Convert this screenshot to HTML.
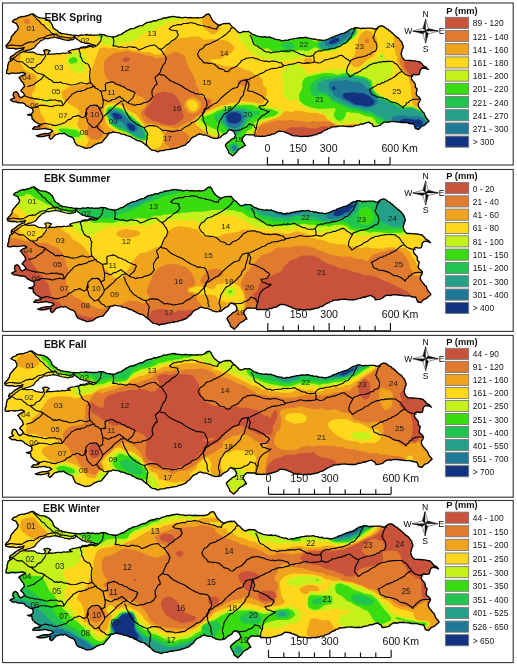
<!DOCTYPE html><html><head><meta charset="utf-8"><title>EBK seasonal precipitation</title><style>html,body{margin:0;padding:0;background:#fff}svg{display:block}</style></head><body><svg width="517" height="666" viewBox="0 0 517 666" font-family="'Liberation Sans', Arial, sans-serif">
<defs>
<clipPath id="land"><path d="M12.3,21.5 L14.4,19.5 L17.0,18.9 L18.1,17.6 L19.9,17.1 L21.9,16.5 L24.0,16.7 L25.7,16.0 L28.6,15.3 L30.8,14.1 L33.2,13.9 L34.9,15.2 L36.7,16.5 L38.6,17.5 L40.3,17.9 L42.6,18.1 L44.5,18.3 L46.2,19.3 L48.6,20.4 L49.6,21.8 L51.0,22.8 L52.3,25.3 L52.9,27.3 L54.3,28.9 L55.7,29.8 L57.4,30.7 L58.4,32.2 L60.0,32.6 L61.6,33.3 L64.2,33.8 L66.3,34.1 L68.0,34.5 L69.8,34.6 L71.9,35.1 L74.5,35.3 L76.6,35.4 L79.4,35.6 L81.5,34.9 L83.1,35.1 L84.7,34.9 L86.7,34.5 L88.6,35.1 L90.6,34.8 L92.8,35.3 L94.5,35.1 L96.5,35.2 L98.4,34.9 L99.7,34.4 L101.5,34.5 L103.9,34.6 L105.2,35.3 L107.2,36.1 L109.4,36.3 L110.9,36.7 L113.1,37.2 L115.5,36.6 L117.1,35.9 L119.1,34.8 L120.8,34.6 L122.2,33.9 L123.3,32.8 L124.5,32.3 L125.9,31.1 L127.5,30.5 L129.0,29.7 L130.2,29.0 L132.2,28.6 L134.1,28.3 L136.5,27.1 L138.1,26.5 L140.2,25.6 L142.5,25.5 L144.1,24.3 L145.8,23.1 L147.9,22.4 L149.8,21.9 L150.8,22.1 L152.7,21.1 L154.3,20.6 L155.8,21.0 L157.6,20.2 L158.7,19.5 L160.2,19.3 L162.0,18.8 L163.4,17.9 L165.7,18.0 L167.6,17.5 L169.5,17.0 L171.0,16.8 L173.1,16.4 L174.7,16.6 L176.8,17.2 L179.3,17.2 L181.2,17.8 L183.1,17.6 L184.4,17.4 L186.2,17.4 L188.3,17.9 L190.3,17.5 L191.9,17.8 L193.4,17.8 L195.8,17.9 L197.4,17.6 L198.6,17.8 L200.4,17.7 L202.6,17.3 L204.1,16.4 L206.3,14.5 L208.7,14.0 L210.3,15.8 L210.7,17.0 L212.3,19.8 L213.1,21.0 L214.2,21.9 L216.2,23.6 L217.8,24.6 L219.6,25.4 L221.5,24.3 L222.7,23.9 L224.3,23.6 L225.9,23.3 L227.4,23.6 L229.2,23.2 L230.8,25.1 L232.1,26.7 L233.5,27.7 L234.8,28.6 L236.1,30.1 L237.7,31.8 L239.8,32.8 L242.1,32.1 L243.7,31.3 L245.5,31.6 L246.8,31.6 L248.5,31.5 L250.8,33.0 L252.5,34.4 L254.4,34.8 L255.9,35.5 L257.4,36.2 L259.3,36.3 L261.2,36.8 L263.4,37.0 L265.5,36.7 L267.1,37.3 L269.3,36.8 L270.4,37.5 L272.1,37.9 L273.8,38.7 L276.0,39.3 L277.5,39.7 L279.8,39.8 L281.9,41.0 L283.3,40.7 L285.4,40.2 L287.8,40.3 L289.1,39.6 L291.3,39.2 L293.0,38.9 L295.3,38.3 L297.1,38.3 L298.6,37.9 L301.0,37.7 L302.5,37.8 L305.0,37.5 L306.4,37.4 L308.3,38.3 L310.4,38.3 L312.5,39.2 L314.7,38.9 L316.1,39.7 L318.4,40.0 L320.0,39.9 L322.3,40.5 L323.8,40.4 L326.2,39.8 L327.7,39.3 L329.6,38.5 L331.8,37.3 L333.8,37.0 L335.6,35.8 L337.7,35.2 L339.3,34.5 L341.2,33.9 L343.3,33.3 L345.6,32.6 L347.2,31.5 L348.9,30.3 L350.6,29.2 L353.1,28.7 L354.9,27.8 L357.3,27.7 L359.1,28.1 L360.7,28.7 L362.5,28.2 L364.6,28.4 L366.2,28.1 L368.4,28.1 L370.1,28.1 L371.8,28.1 L373.7,29.0 L375.7,29.0 L377.0,28.1 L379.1,26.5 L380.6,26.0 L382.5,25.9 L384.4,27.1 L386.4,28.8 L388.3,29.4 L389.0,30.7 L390.4,31.2 L391.4,32.4 L393.0,33.6 L394.1,34.8 L395.1,35.7 L396.4,36.8 L397.6,37.6 L399.1,38.8 L400.2,40.3 L401.3,41.7 L402.3,43.2 L402.3,44.4 L403.1,45.8 L403.2,47.8 L402.0,49.6 L402.0,51.1 L401.3,52.8 L401.2,54.2 L401.8,56.1 L402.3,57.6 L403.6,59.1 L405.1,60.4 L407.4,60.4 L409.7,60.5 L412.0,60.7 L414.7,60.9 L417.1,61.3 L420.0,61.9 L422.5,64.4 L423.6,66.0 L425.1,66.6 L426.5,67.6 L428.3,69.6 L426.0,68.5 L423.6,68.0 L421.8,68.4 L420.4,69.8 L419.8,72.1 L419.3,74.4 L416.7,74.9 L415.6,74.8 L413.9,74.3 L412.0,75.3 L411.4,78.1 L411.8,79.4 L412.7,80.9 L413.6,81.9 L414.9,83.3 L415.5,85.6 L415.2,87.0 L417.2,88.9 L416.8,90.3 L416.4,92.7 L416.2,94.4 L417.4,96.0 L419.3,97.3 L420.5,99.2 L419.9,101.0 L418.8,102.7 L418.3,103.6 L418.4,105.9 L419.3,107.7 L420.3,109.1 L421.8,110.8 L422.8,112.0 L424.1,113.1 L424.8,115.2 L425.4,116.4 L426.3,118.1 L428.1,119.9 L428.9,121.3 L426.8,123.1 L425.1,124.6 L423.6,125.7 L422.0,126.1 L420.9,127.0 L419.5,128.6 L418.6,129.4 L415.5,128.5 L414.8,126.3 L413.7,124.0 L411.7,123.8 L409.8,123.5 L407.5,122.7 L406.1,122.6 L403.8,122.6 L401.8,122.7 L400.4,122.2 L398.2,122.0 L396.1,121.8 L393.9,121.4 L392.0,121.7 L390.3,121.4 L388.7,122.3 L386.4,121.9 L384.3,122.1 L382.9,122.9 L381.4,123.9 L380.2,125.2 L378.9,125.6 L377.0,126.1 L375.3,126.3 L373.5,126.6 L372.3,124.0 L370.5,123.4 L369.3,122.2 L366.9,122.6 L365.1,123.2 L363.5,124.0 L361.6,123.8 L359.0,124.9 L357.7,125.2 L355.6,125.3 L353.5,126.3 L351.8,126.5 L350.0,126.3 L347.4,126.5 L345.5,126.4 L343.5,125.9 L341.4,126.1 L339.3,126.1 L337.1,126.5 L335.3,126.9 L333.6,126.8 L331.3,127.0 L330.3,128.1 L328.4,128.3 L327.3,129.4 L325.7,129.9 L324.4,130.5 L322.7,131.5 L321.8,132.4 L320.3,133.0 L317.9,133.6 L316.5,134.7 L314.1,134.9 L312.2,135.7 L310.2,135.7 L308.5,136.5 L306.2,136.1 L304.6,136.4 L303.1,136.3 L301.5,136.7 L299.6,136.3 L298.2,136.1 L296.2,135.8 L294.0,135.9 L292.0,135.4 L290.1,134.2 L287.8,133.3 L286.1,132.6 L283.7,131.6 L281.8,131.4 L279.0,131.1 L276.9,132.1 L275.5,133.3 L273.6,134.0 L271.9,134.2 L269.6,135.3 L268.2,135.1 L266.3,135.8 L264.3,136.3 L262.3,136.1 L260.6,136.4 L259.3,136.3 L257.4,136.1 L254.9,136.2 L254.0,134.9 L251.5,134.8 L249.7,134.9 L247.3,134.7 L245.6,134.6 L244.0,136.4 L243.0,137.0 L241.8,139.9 L243.7,142.9 L245.3,145.7 L243.5,146.1 L242.5,147.3 L240.3,148.5 L238.7,149.3 L237.0,151.1 L236.2,152.5 L234.7,153.8 L232.7,155.9 L231.9,155.3 L230.1,153.8 L228.8,153.0 L228.3,150.7 L227.3,149.1 L226.4,147.4 L225.3,145.3 L226.5,143.6 L228.5,141.9 L229.8,141.0 L231.2,139.5 L232.4,138.9 L234.0,138.3 L235.6,135.4 L233.9,131.8 L231.5,130.3 L229.7,129.5 L228.1,130.7 L227.2,132.2 L225.8,133.5 L224.3,134.1 L222.2,135.4 L220.8,136.7 L219.8,137.7 L216.5,138.3 L214.4,138.5 L212.7,137.8 L211.0,137.7 L209.5,136.5 L208.2,136.2 L205.8,135.0 L203.6,135.1 L202.1,134.7 L199.7,133.8 L197.1,134.8 L196.0,135.9 L194.1,136.6 L192.3,137.6 L190.8,139.1 L190.3,139.9 L189.1,141.6 L187.6,142.6 L186.3,143.6 L185.1,145.1 L183.3,145.7 L180.6,146.7 L179.4,147.1 L177.4,147.6 L176.0,148.4 L173.9,148.4 L172.5,149.0 L171.1,148.9 L168.4,149.6 L166.3,149.6 L164.1,150.5 L161.9,150.7 L159.7,150.9 L157.9,151.8 L155.7,150.8 L154.2,150.4 L152.0,150.1 L150.7,149.2 L149.2,148.0 L147.6,146.1 L145.7,145.0 L144.9,144.2 L143.2,143.0 L142.1,141.8 L140.0,141.0 L138.3,140.8 L136.1,139.8 L135.2,139.4 L133.3,138.1 L132.4,138.0 L130.6,136.6 L129.0,136.2 L127.0,135.7 L125.0,134.7 L123.1,134.1 L120.9,133.9 L119.3,132.8 L116.9,132.6 L115.1,132.3 L112.9,131.9 L111.4,132.9 L109.0,133.0 L108.5,133.9 L107.6,135.3 L106.5,136.9 L105.3,138.2 L103.9,139.9 L102.7,141.4 L101.6,142.7 L99.6,143.1 L98.3,143.2 L96.9,143.9 L94.9,144.7 L93.2,145.9 L91.2,147.3 L89.5,147.8 L88.2,147.9 L86.6,148.3 L84.8,148.2 L82.8,147.1 L81.0,146.7 L79.7,145.8 L78.1,145.6 L76.4,144.7 L75.0,142.7 L74.3,140.5 L73.3,138.3 L71.8,137.2 L69.3,136.3 L67.9,135.6 L66.1,134.5 L64.0,133.1 L61.9,133.8 L59.8,133.4 L57.9,134.2 L55.3,134.8 L53.1,137.1 L52.3,138.3 L50.7,139.3 L49.0,137.4 L50.0,134.9 L47.9,135.3 L45.3,136.0 L42.6,136.6 L40.7,136.4 L38.5,136.6 L36.4,135.7 L38.2,135.3 L40.6,134.3 L43.1,133.8 L45.5,133.5 L47.7,133.6 L50.0,132.8 L52.7,131.2 L50.7,129.5 L49.6,129.4 L48.0,129.4 L46.1,128.5 L44.6,128.4 L42.2,128.8 L40.3,128.9 L38.1,129.3 L36.1,129.3 L34.5,129.1 L32.5,129.0 L34.6,126.6 L36.5,126.8 L39.2,126.6 L40.5,124.4 L37.9,123.6 L36.6,122.5 L34.9,121.7 L34.0,120.4 L32.3,119.1 L31.9,117.2 L31.8,115.4 L29.6,115.4 L27.5,114.8 L29.9,114.2 L31.1,114.3 L33.1,112.0 L32.7,108.8 L30.9,107.9 L29.3,107.5 L28.4,106.5 L26.3,105.8 L24.6,103.7 L21.7,102.6 L18.4,102.8 L16.0,101.6 L14.4,101.9 L12.9,101.7 L10.4,100.0 L11.6,99.1 L14.7,97.9 L13.1,95.7 L13.7,92.5 L16.0,91.5 L17.8,93.1 L19.3,96.5 L21.1,97.8 L22.9,96.7 L24.8,95.3 L23.3,92.8 L22.2,91.9 L20.9,90.7 L22.7,88.3 L24.5,86.7 L23.6,83.4 L22.3,82.0 L21.2,80.7 L20.1,78.6 L19.0,77.8 L20.8,76.4 L22.2,75.5 L24.2,74.8 L25.6,73.7 L22.9,72.4 L21.2,72.7 L19.6,73.0 L17.1,73.2 L15.8,73.4 L13.2,73.1 L11.3,73.1 L10.1,73.7 L8.2,73.7 L6.5,73.3 L6.7,70.3 L7.6,68.8 L7.6,67.4 L7.7,65.7 L8.2,64.3 L8.6,62.3 L11.0,60.5 L9.9,58.9 L10.8,56.7 L12.9,55.7 L14.5,54.3 L16.4,52.7 L18.4,51.5 L19.9,50.8 L20.9,50.0 L23.0,49.9 L24.1,47.3 L21.6,48.4 L19.4,48.4 L17.6,48.8 L15.6,49.0 L13.7,48.3 L12.1,48.4 L9.7,48.4 L6.7,47.8 L5.9,45.9 L7.3,44.2 L8.6,42.9 L9.9,41.2 L10.8,39.6 L11.3,36.8 L13.3,34.5 L14.2,33.5 L15.3,32.0 L16.5,30.9 L17.7,29.6 L18.4,26.9 L17.3,25.5 L16.7,23.7 L14.2,22.6Z"/></clipPath>
<path id="coast" d="M12.3,21.5 L14.4,19.5 L17.0,18.9 L18.1,17.6 L19.9,17.1 L21.9,16.5 L24.0,16.7 L25.7,16.0 L28.6,15.3 L30.8,14.1 L33.2,13.9 L34.9,15.2 L36.7,16.5 L38.6,17.5 L40.3,17.9 L42.6,18.1 L44.5,18.3 L46.2,19.3 L48.6,20.4 L49.6,21.8 L51.0,22.8 L52.3,25.3 L52.9,27.3 L54.3,28.9 L55.7,29.8 L57.4,30.7 L58.4,32.2 L60.0,32.6 L61.6,33.3 L64.2,33.8 L66.3,34.1 L68.0,34.5 L69.8,34.6 L71.9,35.1 L74.5,35.3 L76.6,35.4 L79.4,35.6 L81.5,34.9 L83.1,35.1 L84.7,34.9 L86.7,34.5 L88.6,35.1 L90.6,34.8 L92.8,35.3 L94.5,35.1 L96.5,35.2 L98.4,34.9 L99.7,34.4 L101.5,34.5 L103.9,34.6 L105.2,35.3 L107.2,36.1 L109.4,36.3 L110.9,36.7 L113.1,37.2 L115.5,36.6 L117.1,35.9 L119.1,34.8 L120.8,34.6 L122.2,33.9 L123.3,32.8 L124.5,32.3 L125.9,31.1 L127.5,30.5 L129.0,29.7 L130.2,29.0 L132.2,28.6 L134.1,28.3 L136.5,27.1 L138.1,26.5 L140.2,25.6 L142.5,25.5 L144.1,24.3 L145.8,23.1 L147.9,22.4 L149.8,21.9 L150.8,22.1 L152.7,21.1 L154.3,20.6 L155.8,21.0 L157.6,20.2 L158.7,19.5 L160.2,19.3 L162.0,18.8 L163.4,17.9 L165.7,18.0 L167.6,17.5 L169.5,17.0 L171.0,16.8 L173.1,16.4 L174.7,16.6 L176.8,17.2 L179.3,17.2 L181.2,17.8 L183.1,17.6 L184.4,17.4 L186.2,17.4 L188.3,17.9 L190.3,17.5 L191.9,17.8 L193.4,17.8 L195.8,17.9 L197.4,17.6 L198.6,17.8 L200.4,17.7 L202.6,17.3 L204.1,16.4 L206.3,14.5 L208.7,14.0 L210.3,15.8 L210.7,17.0 L212.3,19.8 L213.1,21.0 L214.2,21.9 L216.2,23.6 L217.8,24.6 L219.6,25.4 L221.5,24.3 L222.7,23.9 L224.3,23.6 L225.9,23.3 L227.4,23.6 L229.2,23.2 L230.8,25.1 L232.1,26.7 L233.5,27.7 L234.8,28.6 L236.1,30.1 L237.7,31.8 L239.8,32.8 L242.1,32.1 L243.7,31.3 L245.5,31.6 L246.8,31.6 L248.5,31.5 L250.8,33.0 L252.5,34.4 L254.4,34.8 L255.9,35.5 L257.4,36.2 L259.3,36.3 L261.2,36.8 L263.4,37.0 L265.5,36.7 L267.1,37.3 L269.3,36.8 L270.4,37.5 L272.1,37.9 L273.8,38.7 L276.0,39.3 L277.5,39.7 L279.8,39.8 L281.9,41.0 L283.3,40.7 L285.4,40.2 L287.8,40.3 L289.1,39.6 L291.3,39.2 L293.0,38.9 L295.3,38.3 L297.1,38.3 L298.6,37.9 L301.0,37.7 L302.5,37.8 L305.0,37.5 L306.4,37.4 L308.3,38.3 L310.4,38.3 L312.5,39.2 L314.7,38.9 L316.1,39.7 L318.4,40.0 L320.0,39.9 L322.3,40.5 L323.8,40.4 L326.2,39.8 L327.7,39.3 L329.6,38.5 L331.8,37.3 L333.8,37.0 L335.6,35.8 L337.7,35.2 L339.3,34.5 L341.2,33.9 L343.3,33.3 L345.6,32.6 L347.2,31.5 L348.9,30.3 L350.6,29.2 L353.1,28.7 L354.9,27.8 L357.3,27.7 L359.1,28.1 L360.7,28.7 L362.5,28.2 L364.6,28.4 L366.2,28.1 L368.4,28.1 L370.1,28.1 L371.8,28.1 L373.7,29.0 L375.7,29.0 L377.0,28.1 L379.1,26.5 L380.6,26.0 L382.5,25.9 L384.4,27.1 L386.4,28.8 L388.3,29.4 L389.0,30.7 L390.4,31.2 L391.4,32.4 L393.0,33.6 L394.1,34.8 L395.1,35.7 L396.4,36.8 L397.6,37.6 L399.1,38.8 L400.2,40.3 L401.3,41.7 L402.3,43.2 L402.3,44.4 L403.1,45.8 L403.2,47.8 L402.0,49.6 L402.0,51.1 L401.3,52.8 L401.2,54.2 L401.8,56.1 L402.3,57.6 L403.6,59.1 L405.1,60.4 L407.4,60.4 L409.7,60.5 L412.0,60.7 L414.7,60.9 L417.1,61.3 L420.0,61.9 L422.5,64.4 L423.6,66.0 L425.1,66.6 L426.5,67.6 L428.3,69.6 L426.0,68.5 L423.6,68.0 L421.8,68.4 L420.4,69.8 L419.8,72.1 L419.3,74.4 L416.7,74.9 L415.6,74.8 L413.9,74.3 L412.0,75.3 L411.4,78.1 L411.8,79.4 L412.7,80.9 L413.6,81.9 L414.9,83.3 L415.5,85.6 L415.2,87.0 L417.2,88.9 L416.8,90.3 L416.4,92.7 L416.2,94.4 L417.4,96.0 L419.3,97.3 L420.5,99.2 L419.9,101.0 L418.8,102.7 L418.3,103.6 L418.4,105.9 L419.3,107.7 L420.3,109.1 L421.8,110.8 L422.8,112.0 L424.1,113.1 L424.8,115.2 L425.4,116.4 L426.3,118.1 L428.1,119.9 L428.9,121.3 L426.8,123.1 L425.1,124.6 L423.6,125.7 L422.0,126.1 L420.9,127.0 L419.5,128.6 L418.6,129.4 L415.5,128.5 L414.8,126.3 L413.7,124.0 L411.7,123.8 L409.8,123.5 L407.5,122.7 L406.1,122.6 L403.8,122.6 L401.8,122.7 L400.4,122.2 L398.2,122.0 L396.1,121.8 L393.9,121.4 L392.0,121.7 L390.3,121.4 L388.7,122.3 L386.4,121.9 L384.3,122.1 L382.9,122.9 L381.4,123.9 L380.2,125.2 L378.9,125.6 L377.0,126.1 L375.3,126.3 L373.5,126.6 L372.3,124.0 L370.5,123.4 L369.3,122.2 L366.9,122.6 L365.1,123.2 L363.5,124.0 L361.6,123.8 L359.0,124.9 L357.7,125.2 L355.6,125.3 L353.5,126.3 L351.8,126.5 L350.0,126.3 L347.4,126.5 L345.5,126.4 L343.5,125.9 L341.4,126.1 L339.3,126.1 L337.1,126.5 L335.3,126.9 L333.6,126.8 L331.3,127.0 L330.3,128.1 L328.4,128.3 L327.3,129.4 L325.7,129.9 L324.4,130.5 L322.7,131.5 L321.8,132.4 L320.3,133.0 L317.9,133.6 L316.5,134.7 L314.1,134.9 L312.2,135.7 L310.2,135.7 L308.5,136.5 L306.2,136.1 L304.6,136.4 L303.1,136.3 L301.5,136.7 L299.6,136.3 L298.2,136.1 L296.2,135.8 L294.0,135.9 L292.0,135.4 L290.1,134.2 L287.8,133.3 L286.1,132.6 L283.7,131.6 L281.8,131.4 L279.0,131.1 L276.9,132.1 L275.5,133.3 L273.6,134.0 L271.9,134.2 L269.6,135.3 L268.2,135.1 L266.3,135.8 L264.3,136.3 L262.3,136.1 L260.6,136.4 L259.3,136.3 L257.4,136.1 L254.9,136.2 L254.0,134.9 L251.5,134.8 L249.7,134.9 L247.3,134.7 L245.6,134.6 L244.0,136.4 L243.0,137.0 L241.8,139.9 L243.7,142.9 L245.3,145.7 L243.5,146.1 L242.5,147.3 L240.3,148.5 L238.7,149.3 L237.0,151.1 L236.2,152.5 L234.7,153.8 L232.7,155.9 L231.9,155.3 L230.1,153.8 L228.8,153.0 L228.3,150.7 L227.3,149.1 L226.4,147.4 L225.3,145.3 L226.5,143.6 L228.5,141.9 L229.8,141.0 L231.2,139.5 L232.4,138.9 L234.0,138.3 L235.6,135.4 L233.9,131.8 L231.5,130.3 L229.7,129.5 L228.1,130.7 L227.2,132.2 L225.8,133.5 L224.3,134.1 L222.2,135.4 L220.8,136.7 L219.8,137.7 L216.5,138.3 L214.4,138.5 L212.7,137.8 L211.0,137.7 L209.5,136.5 L208.2,136.2 L205.8,135.0 L203.6,135.1 L202.1,134.7 L199.7,133.8 L197.1,134.8 L196.0,135.9 L194.1,136.6 L192.3,137.6 L190.8,139.1 L190.3,139.9 L189.1,141.6 L187.6,142.6 L186.3,143.6 L185.1,145.1 L183.3,145.7 L180.6,146.7 L179.4,147.1 L177.4,147.6 L176.0,148.4 L173.9,148.4 L172.5,149.0 L171.1,148.9 L168.4,149.6 L166.3,149.6 L164.1,150.5 L161.9,150.7 L159.7,150.9 L157.9,151.8 L155.7,150.8 L154.2,150.4 L152.0,150.1 L150.7,149.2 L149.2,148.0 L147.6,146.1 L145.7,145.0 L144.9,144.2 L143.2,143.0 L142.1,141.8 L140.0,141.0 L138.3,140.8 L136.1,139.8 L135.2,139.4 L133.3,138.1 L132.4,138.0 L130.6,136.6 L129.0,136.2 L127.0,135.7 L125.0,134.7 L123.1,134.1 L120.9,133.9 L119.3,132.8 L116.9,132.6 L115.1,132.3 L112.9,131.9 L111.4,132.9 L109.0,133.0 L108.5,133.9 L107.6,135.3 L106.5,136.9 L105.3,138.2 L103.9,139.9 L102.7,141.4 L101.6,142.7 L99.6,143.1 L98.3,143.2 L96.9,143.9 L94.9,144.7 L93.2,145.9 L91.2,147.3 L89.5,147.8 L88.2,147.9 L86.6,148.3 L84.8,148.2 L82.8,147.1 L81.0,146.7 L79.7,145.8 L78.1,145.6 L76.4,144.7 L75.0,142.7 L74.3,140.5 L73.3,138.3 L71.8,137.2 L69.3,136.3 L67.9,135.6 L66.1,134.5 L64.0,133.1 L61.9,133.8 L59.8,133.4 L57.9,134.2 L55.3,134.8 L53.1,137.1 L52.3,138.3 L50.7,139.3 L49.0,137.4 L50.0,134.9 L47.9,135.3 L45.3,136.0 L42.6,136.6 L40.7,136.4 L38.5,136.6 L36.4,135.7 L38.2,135.3 L40.6,134.3 L43.1,133.8 L45.5,133.5 L47.7,133.6 L50.0,132.8 L52.7,131.2 L50.7,129.5 L49.6,129.4 L48.0,129.4 L46.1,128.5 L44.6,128.4 L42.2,128.8 L40.3,128.9 L38.1,129.3 L36.1,129.3 L34.5,129.1 L32.5,129.0 L34.6,126.6 L36.5,126.8 L39.2,126.6 L40.5,124.4 L37.9,123.6 L36.6,122.5 L34.9,121.7 L34.0,120.4 L32.3,119.1 L31.9,117.2 L31.8,115.4 L29.6,115.4 L27.5,114.8 L29.9,114.2 L31.1,114.3 L33.1,112.0 L32.7,108.8 L30.9,107.9 L29.3,107.5 L28.4,106.5 L26.3,105.8 L24.6,103.7 L21.7,102.6 L18.4,102.8 L16.0,101.6 L14.4,101.9 L12.9,101.7 L10.4,100.0 L11.6,99.1 L14.7,97.9 L13.1,95.7 L13.7,92.5 L16.0,91.5 L17.8,93.1 L19.3,96.5 L21.1,97.8 L22.9,96.7 L24.8,95.3 L23.3,92.8 L22.2,91.9 L20.9,90.7 L22.7,88.3 L24.5,86.7 L23.6,83.4 L22.3,82.0 L21.2,80.7 L20.1,78.6 L19.0,77.8 L20.8,76.4 L22.2,75.5 L24.2,74.8 L25.6,73.7 L22.9,72.4 L21.2,72.7 L19.6,73.0 L17.1,73.2 L15.8,73.4 L13.2,73.1 L11.3,73.1 L10.1,73.7 L8.2,73.7 L6.5,73.3 L6.7,70.3 L7.6,68.8 L7.6,67.4 L7.7,65.7 L8.2,64.3 L8.6,62.3 L11.0,60.5 L9.9,58.9 L10.8,56.7 L12.9,55.7 L14.5,54.3 L16.4,52.7 L18.4,51.5 L19.9,50.8 L20.9,50.0 L23.0,49.9 L24.1,47.3 L21.6,48.4 L19.4,48.4 L17.6,48.8 L15.6,49.0 L13.7,48.3 L12.1,48.4 L9.7,48.4 L6.7,47.8 L5.9,45.9 L7.3,44.2 L8.6,42.9 L9.9,41.2 L10.8,39.6 L11.3,36.8 L13.3,34.5 L14.2,33.5 L15.3,32.0 L16.5,30.9 L17.7,29.6 L18.4,26.9 L17.3,25.5 L16.7,23.7 L14.2,22.6Z"/>
<path id="marmara" d="M23.7,51.3 L25.6,50.9 L27.5,50.1 L29.1,50.1 L31.3,49.1 L33.3,48.4 L34.7,47.5 L36.2,45.1 L38.0,43.4 L39.4,42.1 L40.9,40.5 L43.0,40.0 L44.6,38.6 L46.6,38.6 L48.1,38.6 L49.7,38.2 L51.1,37.8 L52.9,37.6 L54.9,37.3 L56.1,37.7 L58.3,38.2 L59.6,38.5 L61.1,38.9 L62.7,39.4 L64.6,39.9 L66.7,40.2 L69.0,40.6 L70.4,39.6 L72.2,39.9 L73.8,39.3 L74.9,37.1 L76.7,39.1 L77.8,39.6 L79.9,41.3 L80.9,42.1 L83.1,42.3 L84.9,43.4 L87.3,43.5 L89.0,43.7 L91.0,44.1 L93.1,44.8 L95.7,45.3 L94.0,45.1 L92.6,45.7 L90.7,46.5 L89.1,46.6 L86.7,47.4 L85.0,47.8 L83.5,47.6 L81.2,48.0 L79.4,48.4 L77.4,48.8 L76.0,49.1 L73.9,49.6 L72.1,49.7 L71.0,50.2 L68.3,51.2 L69.8,52.3 L71.1,52.9 L70.0,52.6 L68.3,53.0 L66.8,53.0 L65.2,53.4 L62.5,53.0 L60.9,53.8 L58.5,53.5 L57.0,53.6 L55.1,53.8 L53.4,54.2 L51.6,54.2 L49.7,54.0 L47.2,54.7 L48.8,52.2 L50.2,50.8 L48.1,50.0 L46.7,49.7 L44.7,49.9 L43.4,50.8 L45.1,52.3 L44.1,54.6 L41.6,54.9 L39.4,54.4 L37.9,54.3 L36.7,54.0 L34.8,52.8 L33.4,52.0 L31.1,52.1 L28.3,52.3 L26.5,52.0 L23.8,51.8Z"/>
<g id="bas"><path d="M33.1,15.3L34.9,16.5L36.0,18.0L37.1,19.3L39.0,21.0L40.0,22.1L41.4,24.0L43.5,24.8L45.3,27.2L46.5,28.4L47.6,29.4L49.4,30.5L50.5,31.8L51.8,33.2L54.7,34.6L52.2,34.8L49.5,35.1L47.1,35.7L45.2,37.1L42.8,37.7L40.0,38.2L38.3,38.9L36.9,40.1L35.3,40.9L33.6,42.2L30.8,41.8L29.7,42.3L27.8,42.4L24.1,44.3L21.9,45.8L18.9,45.6L17.4,45.8L14.3,45.3L12.0,45.1L10.3,45.1L7.0,46.3M54.8,34.4L56.7,34.6L57.8,35.5L59.8,36.5L62.2,36.7L64.1,37.1L65.7,37.2L67.7,37.8L69.6,37.9L71.6,38.0L74.5,36.5M74.3,35.1L74.7,38.0M10.4,61.2L12.3,60.0L13.3,58.0L15.5,56.9L16.8,55.5L18.6,54.4L20.1,52.8L22.5,52.1L23.9,51.5M10.3,58.0L11.8,58.7L13.8,59.2L15.4,60.4L17.2,61.5L18.4,61.8L22.2,61.7L23.3,62.8L25.3,64.5L26.7,65.4L28.3,67.1L29.4,67.7L31.2,67.9L34.9,67.6L36.0,66.6L37.2,64.7L40.3,63.5L41.4,62.4L42.5,60.5L43.5,59.4L44.9,57.5L45.8,54.4M31.2,68.3L33.0,69.7L34.7,71.2L36.3,72.4L37.9,73.3L40.1,73.7L42.3,74.3L44.3,75.4L45.4,76.7L47.6,77.8L48.6,78.9L50.8,79.8L52.2,81.0L53.9,82.6L56.0,82.2L58.4,82.7L60.1,81.9L62.8,83.2L64.8,83.5L66.4,83.7L68.5,84.4L70.4,85.0L73.1,84.8L75.1,84.6L77.1,83.9L78.9,83.3L80.6,82.7L82.1,82.8L84.4,83.5L86.6,84.0L88.7,83.3L90.5,82.7M44.0,75.3L43.1,76.5L41.7,78.7L40.3,79.8L38.2,81.0L37.3,81.9L35.5,82.9L34.2,84.4L31.7,85.3L29.4,85.9L27.7,86.5M94.0,86.6L92.3,84.3L90.5,82.7L90.2,80.8L89.7,78.7L89.8,76.9L89.5,75.5L90.0,73.5L89.9,70.8L90.7,69.0L89.4,67.4L89.2,65.9L87.7,63.7L85.9,63.5L84.4,62.4L83.0,61.4L82.2,59.9L81.4,57.8L80.2,56.3L80.4,53.9L79.8,52.2L78.9,49.7L81.0,47.0M81.2,47.3L83.5,46.8L85.9,46.9L87.8,45.7L89.8,45.3L91.3,46.3L92.6,47.3L94.8,46.8L96.7,45.6L98.2,44.0L99.9,42.2L101.0,39.9L101.1,38.2L101.8,36.0L101.6,34.2M24.3,95.5L26.2,96.5L27.9,97.1L30.6,98.1L32.1,97.8L33.9,98.9L35.5,98.6L38.1,99.1L39.6,99.4L42.5,99.8L44.2,100.5L46.8,100.8L48.0,100.6L49.9,99.9L51.9,100.2L53.9,100.0L55.7,99.9L57.4,100.9L60.0,100.9L61.4,101.2L62.4,103.3L62.9,105.3M32.4,108.1L34.7,107.2L36.2,106.9L38.6,106.0L40.2,105.1L41.8,105.4L44.3,105.4L46.5,105.8L48.0,105.9L50.7,106.8L52.8,106.4L54.3,105.8L56.9,105.3L59.5,105.2L60.7,105.6L62.6,105.7L64.1,103.8L65.3,102.2L66.4,100.2L68.2,98.9L69.4,97.1L70.9,96.1L71.9,94.2L73.8,93.4L75.5,92.3L78.2,91.2L80.4,91.4L82.0,90.6L84.2,90.2L86.3,89.3L87.2,88.2L89.5,88.1L91.8,87.1L94.3,86.5M94.7,86.2L95.4,88.2L97.2,88.7L99.2,90.1L101.0,91.3L103.5,90.7L105.7,90.7L105.6,88.6L105.4,85.7L105.3,84.1L106.9,82.9L109.5,82.4L111.7,81.7L113.5,82.3L115.0,83.1L116.4,84.2L118.2,84.8L120.5,85.4L121.7,86.5L124.1,86.9L125.4,88.1L127.3,89.4L129.6,90.0L131.4,91.0L133.7,91.7L135.1,92.9L134.2,94.6L133.6,96.1L132.9,97.8L130.7,99.9L129.2,101.1L127.7,102.9M101.0,91.9L101.6,93.0L101.9,95.2L102.5,96.9L102.8,99.1L104.5,99.9L106.0,100.4L108.3,101.5L110.2,101.0L112.2,99.5L114.7,99.2L116.2,98.3L118.2,97.2L119.6,96.4L121.2,97.9L122.6,98.7L124.5,100.5L126.2,101.6L127.7,102.9M37.9,125.8L39.3,125.3L41.2,124.4L43.0,123.9L45.0,123.2L47.3,123.7L48.8,124.3L51.0,124.2L52.4,125.4L54.3,125.4L55.8,125.6L57.5,125.1L60.0,124.2L61.4,124.0L63.2,123.1L65.1,122.7L66.2,121.7L67.5,120.0L69.7,119.4L71.5,118.4L73.2,116.5L75.6,116.4L77.5,115.4L79.3,115.9L81.3,117.2L83.4,117.6L84.9,116.4L86.9,114.1L86.5,111.7L86.5,109.2L88.7,107.1L90.8,105.2L92.6,105.6L94.5,105.0L96.9,105.2L98.4,107.0L99.2,108.7L101.2,107.7L103.1,106.8L102.7,105.2L103.3,103.1L103.1,101.0L103.1,99.1M96.7,105.7L98.4,106.7L99.7,108.8L100.2,110.8L101.2,112.3L102.2,114.7L102.8,116.9L102.6,118.4L101.7,120.1L100.9,121.4L99.2,123.3L97.7,125.5L96.9,126.3L95.0,127.3L92.7,127.7L91.1,125.7L89.4,124.2L88.1,122.9L87.2,120.6L87.0,118.9L86.0,116.7L85.4,114.1L86.1,111.6L86.7,109.1M97.0,126.4L98.4,128.7L100.2,130.7L102.5,131.6L104.2,133.5L106.4,133.7L108.5,133.0M103.2,116.9L105.2,115.2L106.0,114.5L107.9,112.8L110.3,110.7L112.3,109.1L113.2,107.8L115.3,105.4L117.2,104.3L119.0,103.0L121.1,101.2L123.0,101.1L124.5,100.3M122.3,103.6L123.5,105.7L123.9,108.0L125.0,109.8L126.0,112.0L126.7,113.0L127.5,114.6L128.5,116.8L130.1,118.5L131.3,120.2L133.0,121.7L134.8,122.5L136.1,124.0L137.7,124.6L140.2,126.0L141.8,126.8L144.4,127.5L144.9,129.3L146.2,131.0L147.4,133.0L147.8,134.6L147.0,136.3L147.2,138.8L146.6,140.0L146.4,143.1L146.8,145.5M144.0,127.6L146.4,126.7L148.2,125.9L150.2,125.6L152.0,125.6L154.3,125.9L157.0,126.3L158.3,127.4L160.0,128.4L161.0,129.3L162.8,130.6L165.2,130.3L167.5,130.7L169.5,130.9L171.6,131.8L173.9,131.4L176.3,131.0L178.4,130.5L180.6,130.5L181.7,129.7L183.5,128.1L184.8,127.3L186.3,126.4L188.3,125.4L190.1,124.4L191.9,122.5L193.8,122.0L195.6,121.2L197.2,119.9L198.3,119.0L199.7,117.2L202.2,114.9L202.3,113.5L203.9,111.3L204.3,108.9M159.1,73.7L156.8,75.9L155.0,77.5L155.6,79.9L156.6,81.9L157.0,84.4L155.1,85.2L153.8,87.5L152.9,89.1L152.0,90.4L152.0,91.9L152.0,94.6L153.0,96.5L151.6,98.1L150.4,100.0L148.7,101.3L147.0,102.2L145.6,102.4L143.0,103.0L141.3,104.1L139.5,104.4L137.5,104.5L135.5,104.9L133.9,105.4L132.2,104.3L129.4,103.8L127.7,102.6M112.8,36.8L113.6,39.7L113.9,41.6L113.5,44.1L112.9,46.0L115.3,45.8L117.1,46.4L118.9,47.2L120.6,46.7L123.3,47.3L124.5,47.5L126.6,47.8L128.4,46.8L130.7,46.8L132.9,47.4L134.3,47.1L136.7,48.1L138.9,49.9L142.1,48.8L143.9,48.0L146.3,46.8L148.2,46.2L149.6,45.7L152.3,45.2L154.9,45.1L156.7,46.7L158.1,48.0L160.6,49.7M160.2,49.4L162.4,48.6L164.5,47.0L165.7,45.5L168.0,44.2L169.7,43.2L171.1,41.2L173.4,40.0L174.7,39.2L176.9,37.4L178.4,34.8L177.1,32.9L177.4,31.0L174.8,30.5L172.7,30.2L171.1,30.0L169.1,28.8L171.0,27.2L173.4,25.6L175.2,25.5L177.1,24.8L178.8,24.5L180.8,24.9L183.3,23.5L185.8,23.5L187.7,23.4L189.3,22.8L191.7,22.8L193.3,23.1L195.2,23.3L197.0,24.6L199.5,25.0L201.3,25.5L203.6,25.8L205.2,26.3L206.8,26.7L209.2,27.1L211.3,28.0L213.0,28.8L215.0,28.8L216.6,29.3L217.3,26.8L219.7,25.1M160.7,49.8L162.3,51.4L163.6,53.9L164.8,54.9L165.6,56.9L166.4,58.8L165.5,60.8L164.9,63.3L163.4,64.6L162.6,66.0L161.7,68.2L160.7,70.3L160.3,72.0L159.1,73.9M159.1,74.0L161.2,74.9L163.0,75.0L164.9,75.7L166.0,77.0L167.9,78.7L169.4,80.1L171.5,81.2L172.6,81.6L175.3,83.0L178.3,84.3L180.1,85.1L181.5,85.8L182.8,86.7L184.7,88.2L186.4,89.1L187.9,90.1L190.2,91.2L192.0,92.2L193.5,92.4L195.4,93.9L197.9,93.8L199.9,94.2L202.1,94.4L204.0,95.6L204.6,96.9L205.1,98.4L206.1,100.1L206.6,102.6L207.2,105.3L206.3,107.0L205.5,108.9L204.3,108.9M205.1,109.3L204.5,111.5L203.2,113.7L202.6,115.5L203.2,117.8L203.2,119.4L204.0,121.7L204.9,123.6L205.9,125.4L206.5,127.8L206.3,129.9L206.8,131.4L207.6,133.5M204.9,109.5L207.1,108.6L208.6,107.7L209.6,106.6L211.3,105.7L213.0,104.6L214.6,103.6L216.4,102.9L217.5,101.8L219.7,99.7L220.7,98.2L222.9,96.5L223.9,95.4L225.5,94.3L226.9,92.8L228.6,91.9L229.9,90.5L232.0,89.1L233.7,88.3L236.2,87.8L238.1,86.5L238.3,84.7L239.6,82.9L240.7,81.0L242.1,80.7L244.1,80.1L246.3,80.0L249.0,79.3L250.8,78.3L252.5,77.7L254.9,76.3L256.7,75.5L258.7,74.7L260.1,73.6L262.3,73.1L263.4,72.6L265.2,71.2L266.6,70.3L268.8,70.0L270.2,68.8L271.8,68.8L273.9,68.3L275.7,68.5L278.1,67.7L279.6,67.0L281.8,67.1L283.5,66.1M246.7,79.7L246.3,82.3L246.2,83.9L245.7,85.7L245.3,87.3L244.8,89.7L243.9,91.3L243.6,93.3L243.2,95.6L242.2,96.4L240.5,98.2L239.8,100.1L239.3,101.6L237.9,103.2L236.0,104.9L234.9,106.4L233.2,107.9L232.4,108.7L230.5,109.9L228.8,111.3L227.6,112.6L225.9,113.0L224.1,114.3L223.0,116.0L222.1,117.1L221.2,118.8L219.8,120.5L219.1,122.2L218.9,123.7L218.4,125.7L217.7,127.8L217.5,130.2L217.9,131.4L218.6,133.4L218.9,135.5L217.6,138.5M246.6,80.0L247.6,81.4L248.4,83.4L249.2,84.9L248.3,87.5L247.6,90.4L249.7,91.2L251.6,91.2L253.5,92.1L255.0,92.7L256.8,93.5L259.1,94.8L261.4,95.7L262.5,96.5L264.3,98.4L266.6,99.5L268.1,101.3L266.4,103.4L265.3,105.1L263.1,105.6L261.4,105.8L259.0,106.3L261.2,109.3L263.3,109.6L265.4,110.5L267.5,111.3L269.5,111.2L267.8,112.5L266.4,113.5L264.3,114.7L263.3,115.0L260.9,116.9L259.7,118.4L258.0,120.4L257.7,122.2L256.7,124.6L256.8,126.8L256.2,129.0L254.9,131.9L255.0,133.2L254.5,135.5M230.7,130.1L233.0,130.2L235.5,130.5L237.5,130.3L239.3,130.1L241.3,129.5L243.0,128.1L245.2,127.8L247.4,126.3L249.1,123.9L251.8,124.7L253.9,125.2L254.6,127.1L256.0,128.5M232.2,27.7L230.5,28.8L230.1,30.7L228.1,32.1L227.1,33.4L224.7,35.2L223.2,36.2L221.7,37.4L220.0,38.4L217.8,39.7L216.4,40.4L214.3,41.7L212.9,41.8L211.2,43.2L208.8,44.1L206.8,44.5L204.8,45.6L203.8,47.1L202.3,48.8L200.0,49.6L198.5,52.0L197.5,54.2L198.5,56.4L200.0,58.7L201.7,59.9L203.6,62.6L205.0,62.9L206.9,62.9L209.1,63.5L210.5,63.1L212.6,63.8L215.1,64.4L215.7,65.7L217.1,66.3L218.7,68.4L221.5,68.9L223.8,69.7L225.1,71.4L227.6,71.6L229.2,70.7L230.9,68.7L233.5,67.8L235.1,67.0L237.1,65.9L238.3,64.4L240.2,62.6L241.5,60.6L244.2,59.5L246.1,58.2L247.6,58.2L249.6,57.8L251.2,57.7L253.6,57.8L255.4,58.8L257.8,58.9L259.7,60.0L260.9,60.5L263.4,61.0L265.2,61.4L267.1,61.0L268.5,61.9L270.6,61.2L273.4,61.0L276.0,61.5L277.6,62.0L279.7,62.7L281.3,62.8L283.5,66.1M283.4,65.3L285.1,65.5L287.5,65.0L289.4,64.4L291.5,64.3L293.5,63.9L295.5,63.3L296.8,62.7L299.2,62.3L301.1,62.9L302.5,63.2L304.4,63.4L307.1,62.9L309.2,63.1L310.9,62.7L313.2,62.6L314.2,60.7L314.1,58.2L313.5,55.5M313.6,61.8L315.6,62.3L318.2,63.0L320.7,62.8L321.8,61.8L323.2,61.2L324.7,59.9L327.2,59.7L328.8,59.3L331.4,58.3L333.4,58.4L335.0,57.4L337.6,56.7L338.9,55.7L341.7,55.3L343.6,56.7L345.2,58.1L346.8,59.0L348.8,60.3L350.5,61.6L349.6,63.2L348.3,65.4L347.3,67.5L346.7,70.1L346.6,72.7L348.2,74.4L350.0,76.9L351.9,75.7L353.1,74.9L354.6,73.6L356.9,72.9L358.5,72.0L360.6,71.1L362.0,69.5L363.9,68.8L365.5,68.1L367.8,66.3L369.2,65.1L371.3,64.5L372.6,63.7L374.8,63.1L376.7,63.1L378.7,62.1L381.4,62.1L382.8,61.4L385.0,61.6L387.6,61.4L388.8,61.4L391.5,61.5L393.4,61.8L394.2,62.9L396.5,64.0L397.8,65.3L398.6,66.7L399.9,68.8L401.2,69.7L401.8,71.2L403.8,73.1L405.0,74.2L406.9,75.0L409.1,75.7L411.3,76.1L413.1,76.5M250.1,35.2L250.9,36.7L252.0,38.8L252.5,40.3L252.8,42.1L253.8,44.2L255.7,45.4L257.4,46.1L259.6,48.0L261.1,48.6L263.2,50.3L265.3,51.7L267.0,52.0L268.9,51.9L270.5,53.0L273.5,52.1L275.8,52.0L277.3,51.9L279.7,51.8L281.8,50.9L283.7,51.4L285.9,50.8L287.5,51.1L289.1,51.1L291.5,50.3L293.3,50.5L294.9,51.7L297.5,52.6L298.7,53.5L301.2,54.6L303.1,54.5L305.3,55.8L306.4,56.1L308.7,56.2L311.0,56.1L313.1,55.5L314.9,53.1L316.0,52.0L318.8,50.8L320.5,51.1L322.6,50.5L324.1,49.9L326.1,49.8L328.2,49.5L330.3,48.8L332.1,48.3L333.9,48.5L336.3,47.6L338.8,46.6L340.5,46.2L341.9,44.7L343.4,43.6L345.7,43.1L347.3,41.6L348.7,39.7L349.5,38.3L351.1,37.5L351.7,35.4L352.3,33.3L353.4,32.1L354.1,30.7L355.1,27.8M377.8,27.5L377.4,28.9L376.0,30.4L375.1,32.1L374.3,34.2L374.2,36.1L372.8,37.5L374.0,39.0L374.4,41.1L375.8,42.0L376.2,43.5L377.0,45.6L376.7,48.5L376.2,50.0L375.0,51.4L373.2,51.8L371.6,52.5L370.5,54.2L368.2,54.3L366.4,55.8L364.2,56.2L362.5,56.8L360.4,57.1L358.2,57.3L356.8,57.9L354.7,58.8L353.5,59.0L351.2,60.0L350.2,61.5M401.6,71.5L399.7,72.6L398.0,73.6L396.5,75.0L394.7,76.8L392.6,77.9L390.8,79.0L389.4,79.4L387.6,80.8L385.0,81.5L383.8,82.7L381.6,82.9L380.4,84.2L378.0,84.2L376.8,85.1L374.6,86.6L373.1,87.3L371.3,88.4L369.4,89.2L370.0,90.4L371.1,92.8L371.5,94.2L372.8,95.0L375.0,95.6L376.5,97.0L378.2,97.0L380.0,97.2L382.6,97.7L383.8,98.2L386.2,98.9L387.8,99.6L389.5,100.9L391.3,102.1L393.2,102.4L395.6,102.8L397.2,103.5L399.1,104.6L401.3,106.1L403.1,108.0L404.0,105.9L406.0,105.0L406.4,103.1L408.6,102.4L409.6,100.8L411.4,100.2L412.7,99.4L415.7,99.2L418.2,99.1L420.3,99.2" fill="none" stroke="#000" stroke-width="1.1" stroke-linejoin="round" stroke-linecap="round"/></g>
<g id="lab"><text x="31.0" y="30.9" font-size="8" text-anchor="middle" fill="#1a1a1a">01</text><text x="58.0" y="37.7" font-size="8" text-anchor="middle" fill="#1a1a1a">02</text><text x="85.1" y="42.6" font-size="8" text-anchor="middle" fill="#1a1a1a">02</text><text x="30.0" y="62.5" font-size="8" text-anchor="middle" fill="#1a1a1a">02</text><text x="59.0" y="70.0" font-size="8" text-anchor="middle" fill="#1a1a1a">03</text><text x="26.8" y="79.6" font-size="8" text-anchor="middle" fill="#1a1a1a">04</text><text x="56.1" y="94.0" font-size="8" text-anchor="middle" fill="#1a1a1a">05</text><text x="34.8" y="107.6" font-size="8" text-anchor="middle" fill="#1a1a1a">06</text><text x="62.9" y="117.8" font-size="8" text-anchor="middle" fill="#1a1a1a">07</text><text x="84.1" y="134.7" font-size="8" text-anchor="middle" fill="#1a1a1a">08</text><text x="94.8" y="117.3" font-size="8" text-anchor="middle" fill="#1a1a1a">10</text><text x="113.2" y="124.0" font-size="8" text-anchor="middle" fill="#1a1a1a">09</text><text x="111.3" y="95.0" font-size="8" text-anchor="middle" fill="#1a1a1a">11</text><text x="124.8" y="70.6" font-size="8" text-anchor="middle" fill="#1a1a1a">12</text><text x="151.9" y="35.8" font-size="8" text-anchor="middle" fill="#1a1a1a">13</text><text x="224.1" y="55.5" font-size="8" text-anchor="middle" fill="#1a1a1a">14</text><text x="206.7" y="85.1" font-size="8" text-anchor="middle" fill="#1a1a1a">15</text><text x="177.0" y="110.5" font-size="8" text-anchor="middle" fill="#1a1a1a">16</text><text x="167.4" y="141.4" font-size="8" text-anchor="middle" fill="#1a1a1a">17</text><text x="227.4" y="110.9" font-size="8" text-anchor="middle" fill="#1a1a1a">18</text><text x="247.7" y="116.9" font-size="8" text-anchor="middle" fill="#1a1a1a">20</text><text x="238.6" y="141.6" font-size="8" text-anchor="middle" fill="#1a1a1a">19</text><text x="319.6" y="101.8" font-size="8" text-anchor="middle" fill="#1a1a1a">21</text><text x="303.8" y="47.4" font-size="8" text-anchor="middle" fill="#1a1a1a">22</text><text x="359.5" y="49.4" font-size="8" text-anchor="middle" fill="#1a1a1a">23</text><text x="390.5" y="48.4" font-size="8" text-anchor="middle" fill="#1a1a1a">24</text><text x="396.7" y="93.5" font-size="8" text-anchor="middle" fill="#1a1a1a">25</text></g>
</defs>
<rect width="517" height="666" fill="#fff"/>
<g transform="matrix(1,0,0,1,0,0)">
<g clip-path="url(#land)">
<rect x="0" y="0" width="445" height="166" fill="#C8533A"/>
<path fill="#E07A2E" fill-rule="evenodd" d="M0.0,0.0L0.0,165.7L444.7,165.7L444.7,0.0ZM330.7,130.3L330.0,134.3L328.3,137.0L324.0,139.3L315.3,141.3L289.3,140.3L286.0,139.7L284.0,138.7L282.7,136.7L282.3,135.0L283.0,132.7L285.3,130.0L290.7,127.3L299.7,127.3L303.0,126.7L306.0,127.7L314.7,128.7L322.7,126.0L325.7,126.3L329.0,127.7ZM207.0,101.3L208.0,100.3L209.3,100.3L210.3,101.3L210.3,102.3L208.3,103.3L207.3,102.7ZM156.3,93.7L157.7,93.0L165.3,91.7L168.0,92.7L172.0,93.0L176.0,96.0L181.3,104.3L182.0,109.7L183.3,114.0L183.7,117.7L180.3,121.3L175.0,124.7L167.7,125.0L162.3,124.0L159.3,122.3L151.7,120.3L145.3,115.0L144.3,113.3L144.7,110.7L148.3,105.7L152.0,102.3L152.7,100.7L152.7,97.3ZM430.7,64.0L431.3,65.7L431.0,70.7L429.0,73.7L425.0,75.7L411.7,75.7L408.0,73.0L404.0,65.3L404.3,62.3L406.3,60.3L415.7,60.0L419.7,59.3L423.7,59.3L427.0,60.3ZM129.7,58.3L130.0,59.7L128.3,61.3L126.0,62.3L124.3,62.0L122.7,60.3L122.7,59.0L125.3,57.3L127.3,57.0Z"/>
<path fill="#F0A41E" fill-rule="evenodd" d="M189.7,98.0L187.7,99.0L185.7,101.0L184.3,105.0L184.3,106.7L188.0,112.0L190.7,113.0L195.3,113.0L197.3,112.0L200.0,108.7L201.0,105.3L201.0,102.7L197.7,99.0L193.3,97.3ZM0.0,0.0L0.0,165.7L444.7,165.7L444.7,0.0ZM50.7,133.7L50.7,135.3L49.3,136.7L44.3,138.0L36.7,138.0L34.7,136.3L34.7,135.3L36.7,133.7L41.0,133.0L45.7,131.0L48.3,131.7ZM188.3,135.0L189.3,137.3L188.7,139.0L186.0,142.7L182.3,145.7L176.7,146.0L174.3,147.7L172.0,148.3L169.7,147.7L165.3,143.7L164.7,140.3L165.0,133.3L166.0,132.0L169.3,130.0L173.3,130.0L177.0,128.3L181.7,131.0L185.3,132.3ZM42.7,125.3L42.3,127.7L40.0,129.7L33.0,131.0L31.0,129.3L31.0,127.7L32.7,126.0L37.3,123.3L40.7,123.3ZM256.0,135.7L256.0,133.3L259.0,127.3L261.0,125.3L264.3,123.7L266.7,123.3L270.7,121.7L274.3,121.3L276.3,120.3L284.3,120.7L288.7,119.7L292.7,119.7L295.0,120.7L300.7,120.7L306.7,121.7L310.7,121.7L313.0,121.0L315.0,121.0L316.7,121.7L326.7,121.0L328.7,121.3L336.7,125.7L337.3,126.7L337.3,128.0L336.3,130.0L331.7,134.0L330.7,136.7L329.0,138.3L324.3,140.7L317.7,142.7L300.3,143.0L295.0,141.7L274.0,140.7L270.3,139.3L265.7,140.3L260.0,138.7L257.0,137.0ZM95.7,104.7L98.7,105.0L102.0,107.7L102.3,115.0L103.7,119.3L103.0,121.3L100.0,123.3L100.0,125.0L103.0,130.3L103.0,133.7L101.7,136.7L99.7,138.7L97.3,139.7L91.3,138.7L88.0,135.3L88.0,125.7L89.0,124.0L89.0,122.0L86.0,116.0L86.0,112.7L85.3,109.0L86.7,107.3ZM13.3,90.3L15.7,90.3L17.0,91.0L19.7,93.7L20.7,96.7L20.0,101.0L18.7,103.3L16.7,104.7L13.0,104.7L10.0,102.0L9.3,100.0L9.3,95.3L11.3,92.0ZM250.7,80.0L250.7,82.0L249.0,84.3L245.7,85.7L242.7,85.7L238.0,84.0L237.0,82.7L237.0,81.3L237.7,80.3L242.3,79.3L244.3,78.3L248.7,78.3ZM399.7,59.3L402.0,57.3L408.0,58.0L422.3,57.7L426.0,58.7L429.7,61.0L432.0,64.3L432.3,70.0L431.7,72.0L428.7,75.7L425.3,77.3L417.0,77.3L412.0,78.3L407.7,75.0L403.3,70.0L401.7,67.3L399.7,61.3ZM104.0,62.3L107.3,57.7L113.7,53.3L125.3,51.3L129.0,51.3L131.7,52.3L136.7,52.7L145.7,55.3L149.7,55.7L155.7,58.3L163.7,57.3L174.0,51.7L178.0,52.3L183.7,55.3L185.7,58.3L186.7,62.7L189.3,69.0L192.7,74.3L195.7,81.3L195.7,84.7L198.7,88.3L198.7,94.0L200.0,95.7L202.3,97.0L206.7,98.3L210.3,98.7L212.0,100.7L212.0,105.3L211.0,107.3L209.0,109.3L203.7,111.7L199.0,114.7L191.0,121.0L177.3,128.0L169.0,127.3L166.0,126.3L161.0,125.7L156.7,124.0L147.0,123.0L145.7,122.3L142.7,119.0L140.7,114.3L141.0,112.0L146.3,105.3L147.3,103.3L147.0,102.0L142.3,97.3L140.3,96.3L138.0,96.0L135.0,93.3L130.3,92.0L126.3,89.0L122.3,87.0L115.7,85.0L110.7,82.0L106.7,78.0L104.7,74.0L104.3,70.3L103.7,69.0ZM366.3,38.3L368.3,38.7L369.3,40.7L368.7,42.7L367.7,43.3L365.7,43.0L364.3,41.3L365.0,39.3ZM23.3,21.3L25.3,19.0L27.7,18.7L30.0,20.3L30.3,22.7L29.7,23.7L27.0,24.3L24.3,23.0Z"/>
<path fill="#FFD81C" fill-rule="evenodd" d="M104.7,106.0L103.7,109.0L103.7,115.0L105.3,119.7L105.7,122.3L108.7,127.3L113.3,130.0L116.3,133.3L123.0,135.7L126.7,135.7L134.0,140.0L141.3,143.0L145.7,143.0L146.7,143.7L148.3,147.3L150.3,148.7L154.7,149.3L159.0,147.3L160.7,145.7L163.0,141.3L163.3,135.3L161.7,132.0L161.3,128.7L160.3,127.3L153.7,125.0L150.0,125.0L147.7,126.3L145.3,126.0L134.7,113.3L128.3,110.7L125.7,107.0L122.7,106.3L118.3,104.0L113.7,103.0L108.7,103.3ZM189.7,100.0L188.0,101.3L187.0,103.7L187.0,105.3L190.0,110.0L192.3,111.0L194.7,111.0L196.3,109.7L197.7,107.0L197.7,103.3L195.3,101.0L193.3,100.0ZM33.7,15.0L34.0,16.3L35.3,17.7L40.3,21.0L42.0,24.3L45.3,27.3L46.7,30.3L48.3,31.7L51.7,32.7L55.0,34.7L59.3,35.7L61.7,37.0L63.7,37.0L65.0,36.3L74.0,37.0L75.7,36.0L73.7,34.3L67.3,34.3L65.0,33.7L57.7,29.3L55.3,26.7L53.7,22.3L50.3,19.3L46.3,17.3L41.0,17.0L36.7,14.3L34.3,14.3ZM19.7,59.7L20.0,61.7L21.7,65.3L26.0,70.7L28.7,72.3L34.3,73.7L36.3,75.7L36.3,81.7L35.3,84.7L35.3,88.3L34.3,90.7L32.3,93.0L32.0,94.7L33.7,100.0L37.7,104.7L39.7,109.3L40.7,113.3L43.7,117.0L45.0,121.3L47.3,125.3L53.0,131.3L60.7,137.7L62.7,138.7L65.0,139.0L69.7,141.3L72.3,141.3L73.7,142.0L76.7,145.3L79.7,147.0L83.7,146.7L86.3,145.0L88.0,143.0L88.7,139.3L86.3,136.0L84.3,131.7L79.3,128.3L78.0,127.0L77.0,123.7L78.7,120.0L78.3,116.3L79.3,113.0L79.3,110.7L76.0,107.7L72.7,106.3L71.0,104.7L67.7,103.3L63.0,98.7L61.7,92.0L63.7,90.0L70.7,86.3L76.0,86.0L79.7,84.0L84.7,84.7L86.3,84.0L89.7,79.7L92.3,67.0L94.0,63.7L94.7,60.3L96.7,56.7L98.0,50.7L100.3,47.7L105.7,47.3L107.3,48.3L115.0,48.0L121.0,49.3L127.7,48.7L132.3,50.3L137.0,50.3L145.0,52.3L148.3,52.0L152.0,53.0L154.3,54.7L158.0,54.7L162.7,53.0L164.3,51.3L166.3,46.7L170.3,43.7L171.7,41.7L173.7,40.0L181.7,37.7L186.0,38.0L189.0,37.0L194.7,36.3L199.0,36.7L204.3,40.0L213.3,38.7L216.7,40.3L222.7,39.7L228.3,41.3L230.3,42.7L234.3,46.7L234.3,48.7L232.0,52.3L229.7,54.0L227.0,55.0L224.0,57.3L219.7,59.3L211.3,59.3L210.3,60.3L210.7,61.7L213.3,63.0L219.0,64.0L224.0,66.3L231.7,66.3L240.0,67.3L245.0,69.7L250.3,71.0L256.3,75.7L260.3,77.0L262.7,79.3L263.0,84.7L266.3,88.0L267.3,90.0L265.7,98.7L264.3,101.3L262.3,103.7L260.3,104.0L252.3,102.0L249.7,102.0L245.3,101.0L241.0,101.0L238.7,102.0L232.3,103.0L219.3,106.3L202.3,114.0L197.7,117.0L196.3,118.7L195.3,121.0L195.3,123.3L196.0,124.7L207.7,133.7L215.0,137.0L219.3,138.3L221.3,141.3L222.3,147.0L224.0,150.7L227.0,154.0L231.3,156.7L236.3,157.7L241.7,155.3L243.0,154.0L247.0,147.3L247.0,140.3L248.0,138.0L250.0,136.0L252.7,135.3L254.3,134.0L256.7,130.0L257.7,126.7L260.3,123.7L264.0,121.7L276.3,118.0L280.7,115.7L284.7,111.3L285.7,111.0L291.7,112.0L296.0,110.7L300.3,110.7L310.0,113.0L317.0,113.0L319.7,114.0L323.7,114.7L325.7,116.7L326.3,118.3L327.7,119.7L335.3,124.0L340.3,125.7L344.3,125.7L346.3,124.7L353.0,123.7L356.3,124.0L362.7,127.3L366.7,128.0L370.3,130.0L371.7,131.3L372.3,135.7L373.3,138.3L377.3,141.7L383.7,143.0L387.0,144.3L389.7,144.3L394.3,145.3L398.3,145.3L401.7,146.3L416.3,146.0L429.7,146.7L439.7,144.7L442.3,143.0L444.7,140.7L444.7,4.7L436.7,5.3L432.7,3.7L428.3,4.3L422.0,4.3L420.3,3.7L417.0,3.7L411.7,5.7L406.0,5.7L404.0,5.0L395.3,5.7L392.3,4.7L388.7,5.3L384.0,5.3L380.7,4.3L377.7,5.0L360.7,4.3L357.0,5.3L345.0,4.7L333.7,5.0L331.0,5.7L327.0,5.0L318.3,5.3L316.7,4.7L313.0,4.7L308.3,6.3L306.3,6.0L302.0,3.7L300.7,3.7L296.3,5.3L276.3,5.0L273.3,6.0L268.7,6.0L264.3,5.0L257.7,5.0L254.3,6.3L246.7,6.3L243.3,5.0L229.0,4.7L227.0,3.7L224.7,3.7L222.0,5.0L217.7,5.0L214.3,4.3L200.0,4.3L199.0,3.7L195.0,3.7L189.0,5.7L184.7,5.7L181.0,4.7L178.7,5.3L174.3,5.3L172.7,4.7L168.7,4.3L163.7,6.0L156.3,5.7L149.7,4.7L136.0,5.0L134.3,5.7L117.0,4.7L107.7,5.3L106.0,4.7L103.0,4.7L100.0,6.3L99.3,9.0L99.3,20.0L100.0,22.0L100.0,24.7L99.3,27.0L99.3,30.0L97.7,32.7L95.7,33.7L93.0,33.7L91.7,34.3L80.0,35.3L78.7,38.3L77.0,45.3L75.0,47.3L67.3,51.7L59.3,52.7L54.0,51.7L45.3,52.0L42.0,53.3L32.3,53.7L27.0,52.0L23.0,52.3L21.7,53.0L20.7,54.7L20.7,56.7ZM312.0,59.3L311.7,62.0L310.7,63.0L308.7,63.7L305.3,62.7L303.7,61.0L303.7,59.7L305.7,58.3L309.3,57.7L310.7,58.0ZM395.7,35.0L397.7,34.7L399.7,35.3L401.7,37.3L405.0,44.7L404.7,54.7L405.7,56.0L409.3,56.7L421.7,56.3L424.7,57.0L429.3,59.3L433.0,64.0L433.3,70.0L430.7,75.3L427.3,78.0L424.7,79.0L420.7,79.0L420.0,79.7L422.0,84.7L423.0,94.0L421.7,99.7L422.3,108.3L421.7,109.0L415.3,106.7L413.3,104.7L412.3,102.0L412.0,98.0L411.3,96.3L411.3,90.7L410.7,88.7L410.7,86.3L409.3,83.0L408.7,77.7L403.0,72.3L400.0,67.3L397.0,60.7L397.0,56.7L395.3,53.0L395.0,50.0L393.7,46.0L394.0,37.0ZM368.7,30.7L371.0,32.0L376.7,38.0L377.3,43.0L375.3,51.7L373.7,55.7L372.7,56.7L368.0,58.7L360.7,66.3L358.7,67.3L354.7,67.0L352.3,65.7L351.3,64.3L351.0,61.0L352.0,58.3L355.0,54.3L355.7,49.3L358.0,43.7L358.0,40.0L358.7,37.7L361.0,34.0L363.0,32.0L366.7,30.3ZM205.0,13.3L207.3,12.7L210.7,13.0L212.7,15.0L216.0,20.0L218.0,21.3L221.0,25.0L219.3,30.3L214.7,34.3L211.0,34.3L208.7,31.7L206.7,30.7L203.0,27.0L202.3,25.0L202.3,18.3L203.3,14.7Z"/>
<path fill="#C4F01C" fill-rule="evenodd" d="M55.3,127.7L55.3,129.3L57.0,132.3L61.0,136.0L63.0,137.0L70.3,139.3L74.0,139.7L76.7,141.0L80.3,140.3L83.0,139.0L84.3,137.3L84.3,135.3L83.3,133.0L80.3,130.3L74.7,127.3L68.0,126.7L65.0,125.7L59.7,125.7L57.0,126.3ZM106.0,108.0L105.0,111.0L105.0,115.0L108.0,123.0L111.0,126.7L119.7,131.7L125.3,133.3L136.0,139.3L142.3,141.3L145.7,141.3L148.0,139.7L148.3,132.3L147.0,129.7L134.3,116.3L127.3,112.0L123.3,108.7L118.7,106.3L114.0,105.3L109.7,105.3ZM282.3,110.0L280.7,109.0L276.3,109.0L271.0,106.7L267.3,106.3L265.0,105.3L258.3,105.0L252.3,103.3L241.7,103.0L235.7,103.7L220.3,107.7L213.3,110.3L210.0,112.3L205.7,113.7L203.3,115.3L199.3,117.0L197.7,118.7L197.0,120.3L197.0,122.7L199.3,125.7L205.7,129.7L209.0,132.7L215.0,135.3L220.0,136.7L222.7,140.0L224.0,146.7L226.3,150.7L229.0,153.3L231.7,155.0L233.7,155.7L237.3,155.7L241.0,153.7L244.3,149.3L245.7,145.7L245.3,140.7L246.3,137.7L248.7,135.0L252.3,133.7L254.3,132.0L257.7,124.7L260.7,122.0L264.0,120.3L269.0,118.7L273.0,118.0L278.3,115.7L281.3,113.3L282.3,111.7ZM42.3,101.3L43.0,102.7L46.0,103.7L49.3,103.7L51.7,102.3L51.7,101.0L51.0,100.3L47.7,99.3L43.7,100.0ZM282.3,72.3L282.0,77.7L282.7,79.3L283.3,94.7L286.0,98.3L290.3,101.0L293.3,101.0L297.3,99.7L299.3,103.0L303.7,106.7L308.7,108.3L314.0,111.0L317.0,111.3L325.0,113.7L329.0,119.0L335.7,123.0L341.0,124.3L344.0,124.3L347.0,122.7L355.3,122.0L362.7,124.3L368.3,124.7L370.3,126.7L372.7,130.3L374.0,133.3L374.7,136.7L377.7,140.0L387.0,143.0L389.7,143.0L395.3,144.3L403.3,145.3L431.0,145.7L439.0,144.0L441.7,142.3L444.7,139.3L444.7,120.3L443.3,118.3L438.0,113.3L433.7,111.3L427.7,110.0L424.3,110.0L423.3,110.7L421.7,110.7L412.0,105.7L403.3,105.7L399.7,104.0L396.0,101.0L390.3,100.0L387.0,97.7L380.7,95.0L375.3,90.3L374.7,89.0L374.7,86.7L376.3,84.7L383.0,82.7L389.0,78.7L391.3,76.3L393.7,72.3L393.3,65.7L392.3,63.7L390.0,61.7L384.3,59.7L384.0,59.0L385.0,57.0L385.0,55.0L383.3,53.3L380.3,53.3L378.7,54.7L378.3,57.0L379.3,58.7L378.7,60.0L371.7,61.0L366.3,63.3L362.0,67.3L359.7,72.0L358.3,73.0L355.0,72.7L351.3,70.7L344.0,68.7L332.3,68.7L328.7,69.7L326.0,69.7L320.7,71.7L315.7,72.0L309.7,74.0L307.7,74.0L304.0,68.3L301.7,66.0L298.7,65.3L297.0,64.0L294.3,63.0L290.3,64.0L286.0,66.7L284.3,68.3ZM68.0,55.3L66.7,57.3L66.3,60.3L68.3,66.3L71.3,70.0L74.7,72.0L78.3,73.3L81.0,73.3L83.0,72.3L85.0,70.0L85.0,67.0L86.3,63.0L86.3,58.0L85.0,54.3L83.3,53.0L74.0,52.3ZM235.7,30.0L236.3,32.0L238.3,34.0L239.3,39.0L241.0,41.7L253.0,53.7L258.7,57.0L262.0,57.7L266.7,59.7L271.7,59.7L275.7,61.3L285.3,61.0L289.7,59.7L294.3,59.7L299.3,58.0L311.0,56.0L314.0,54.0L315.0,51.0L316.7,49.7L320.0,51.3L324.3,52.0L331.3,52.0L336.0,50.7L340.0,47.7L348.3,43.0L352.7,39.7L357.3,34.7L358.3,30.7L358.0,28.7L356.7,27.0L352.3,26.7L348.0,28.3L343.3,29.3L332.3,34.7L330.3,34.7L329.7,34.0L329.3,31.7L328.0,30.3L320.0,26.3L302.3,25.3L297.0,24.0L287.3,24.0L281.0,25.7L278.0,25.7L275.7,25.0L268.0,25.7L264.3,24.3L261.3,24.3L258.7,25.7L256.0,25.7L252.0,24.7L249.0,25.0L246.7,26.3L240.3,27.0L236.7,28.3ZM188.0,10.7L187.0,9.3L185.0,8.7L171.3,8.3L164.0,11.3L158.3,12.0L154.0,13.3L149.7,13.3L147.3,12.7L142.3,15.7L137.0,15.7L133.0,18.7L122.7,21.7L114.3,21.7L109.7,24.0L106.7,26.7L103.0,28.7L97.0,35.0L97.0,37.0L100.7,40.3L101.7,43.0L111.0,45.3L117.7,44.7L123.0,42.7L129.7,42.3L136.7,39.0L146.0,32.3L151.3,31.7L160.3,26.3L164.0,25.0L168.0,22.0L172.3,22.0L184.3,19.0L186.0,17.7L187.3,15.3Z"/>
<path fill="#38DC10" fill-rule="evenodd" d="M59.0,129.0L59.3,131.0L61.3,133.0L69.0,137.0L78.0,137.0L79.3,136.3L80.7,134.7L80.0,132.7L76.0,130.0L63.0,128.3ZM107.0,109.0L106.0,112.0L106.3,115.3L109.7,123.3L112.7,126.3L119.3,130.0L126.0,132.3L137.0,138.7L142.3,140.3L145.3,140.3L146.3,139.7L147.0,138.3L147.0,134.3L145.0,129.3L141.7,125.3L132.3,116.7L121.7,109.0L118.7,107.7L113.7,106.7L110.0,106.7ZM278.0,111.7L275.3,111.0L271.7,109.0L266.3,108.7L262.7,107.0L256.3,106.7L251.7,105.0L243.0,104.7L240.0,105.3L235.0,105.3L232.3,106.3L228.0,106.7L217.0,111.0L212.0,114.0L207.7,115.3L201.7,118.3L200.7,119.3L200.7,120.3L202.7,122.7L212.0,128.0L217.7,130.0L221.7,133.0L224.7,136.0L226.3,147.0L228.3,151.0L232.0,154.0L236.3,154.3L238.3,153.3L241.0,150.7L243.0,147.0L244.0,144.0L243.3,141.3L243.3,138.3L245.7,132.7L247.3,130.7L251.3,129.0L252.3,128.0L253.7,123.7L256.0,121.3L258.3,120.0L274.0,116.0L278.0,113.3ZM302.0,82.3L302.3,87.7L299.0,95.3L299.3,99.3L301.0,102.3L306.3,105.7L310.7,107.3L319.0,109.0L334.7,108.3L335.7,109.0L335.7,110.0L334.0,113.0L334.0,116.3L335.7,119.0L338.7,120.7L341.3,120.7L344.0,118.3L346.0,114.7L346.0,113.0L347.0,111.7L348.7,111.7L351.0,112.7L358.3,113.0L366.0,116.3L372.0,117.3L375.0,120.3L376.3,123.0L378.0,124.3L379.7,124.3L381.0,125.3L381.7,126.7L383.3,137.3L384.0,138.7L387.3,141.3L394.7,143.3L405.0,144.7L431.7,145.0L439.0,143.3L442.0,141.3L444.7,138.7L444.7,123.7L443.7,123.0L442.0,119.7L438.0,115.7L432.0,112.7L421.3,111.3L419.0,109.7L412.3,106.7L401.7,106.7L393.7,102.3L390.3,101.3L386.0,98.7L380.0,96.0L377.3,94.0L374.0,90.3L372.3,85.7L372.0,82.0L371.0,80.3L365.0,76.7L346.3,73.3L342.3,73.3L340.3,74.3L337.3,74.7L331.7,73.3L324.0,73.0L307.3,76.7L304.0,78.7ZM69.3,59.0L68.7,60.7L69.0,62.0L70.7,63.7L75.3,63.3L77.3,61.7L77.3,59.0L75.7,57.3L72.3,57.3ZM381.0,55.3L380.7,56.7L382.3,57.0L382.7,55.7ZM99.0,35.3L99.0,36.3L101.3,37.7L103.0,37.0L103.0,35.3L101.7,34.3L99.7,34.7ZM357.0,29.3L355.3,27.7L352.3,27.7L346.7,29.3L332.0,35.7L324.3,37.7L317.0,41.7L313.7,41.0L308.3,38.3L304.7,38.3L302.7,37.7L294.3,38.0L286.0,37.3L273.0,37.3L264.3,35.0L257.3,34.7L255.3,34.0L253.3,34.3L251.3,36.0L251.0,39.7L253.0,42.3L260.0,47.3L263.0,48.7L268.0,48.3L271.7,51.0L274.0,51.7L281.3,51.0L284.7,52.7L289.3,52.7L297.7,50.3L303.3,50.3L305.0,51.0L307.7,51.0L315.0,47.3L316.3,47.3L319.7,49.7L322.3,50.7L327.7,51.0L335.3,49.3L349.0,41.3L355.3,35.7L357.0,32.3Z"/>
<path fill="#22C450" fill-rule="evenodd" d="M232.0,143.0L229.7,144.7L229.0,146.3L229.0,149.0L229.7,150.7L231.3,152.3L232.7,153.0L235.3,153.0L237.7,151.7L239.7,148.0L239.7,146.0L236.3,143.0ZM108.0,109.3L107.0,111.7L107.3,115.3L109.7,121.3L113.3,125.7L119.0,128.7L126.7,131.7L138.3,138.3L143.0,139.7L145.0,139.3L145.7,138.7L146.0,134.3L144.0,129.7L138.0,123.0L130.0,116.3L121.0,109.7L118.3,108.7L110.7,107.7ZM260.0,112.0L259.0,111.0L253.7,111.0L250.0,109.3L243.0,107.3L229.0,108.3L216.3,114.0L214.3,116.3L214.3,118.3L216.0,120.7L225.0,127.0L230.7,134.7L232.7,135.3L236.3,135.3L238.7,134.3L241.0,132.3L242.3,129.0L244.7,126.7L246.7,123.0L249.0,120.3L251.3,119.0L254.3,116.0L259.0,114.3L260.0,113.3ZM310.3,84.7L310.3,92.3L312.0,94.7L314.3,96.0L317.3,96.0L319.3,95.0L325.0,95.0L327.7,96.7L329.7,98.7L331.0,101.0L332.7,102.3L336.3,103.0L350.0,109.3L356.3,109.7L363.7,112.7L372.0,114.3L377.3,118.7L381.7,120.0L383.7,122.3L385.7,126.7L386.0,133.7L387.3,138.0L390.0,140.3L393.0,141.7L396.7,142.7L407.0,144.0L414.7,143.7L417.0,144.3L432.0,144.3L438.3,143.0L441.3,141.0L444.0,138.0L444.7,138.0L444.7,127.3L439.7,121.7L436.7,120.0L431.3,119.7L429.7,119.0L423.7,113.0L415.7,108.7L412.0,107.3L408.0,107.3L405.7,108.0L401.7,107.7L383.7,98.7L380.0,97.3L378.0,96.0L373.0,90.7L371.3,87.0L370.3,81.7L368.3,79.7L365.7,78.3L353.7,75.7L345.0,75.0L330.7,76.7L322.7,76.3L314.3,81.0ZM281.3,44.7L281.3,46.0L283.0,48.0L287.3,50.0L289.7,50.0L291.7,49.3L294.3,47.0L294.0,44.7L292.3,43.0L289.7,41.7L286.0,42.0L282.3,43.7ZM356.3,30.0L355.3,28.7L353.0,28.3L344.0,31.0L333.0,36.0L321.7,40.3L317.3,43.7L317.0,45.3L319.3,48.3L323.0,50.0L329.0,50.0L335.7,48.3L342.3,44.7L350.7,39.0L355.0,34.7L356.3,31.3Z"/>
<path fill="#25A088" fill-rule="evenodd" d="M233.0,144.3L231.7,145.0L230.7,146.7L230.7,149.3L232.3,151.3L235.0,151.7L237.0,150.3L237.7,149.0L237.7,146.7L236.0,144.7ZM243.7,109.7L234.0,109.3L229.0,110.0L225.0,112.0L221.3,115.7L221.0,118.0L222.7,122.3L227.0,127.0L230.7,132.3L232.3,133.7L235.7,133.7L238.3,132.3L239.7,131.0L241.0,128.0L243.7,125.3L247.3,118.7L247.7,115.3L246.7,112.3L245.3,110.7ZM108.7,110.3L108.0,112.0L108.3,114.7L111.0,121.3L114.0,124.7L118.3,127.0L125.7,129.7L129.0,132.3L138.3,137.3L142.7,138.7L144.7,137.7L144.7,133.0L140.7,127.0L136.3,123.0L132.0,120.3L127.0,115.3L121.0,111.0L116.3,109.3L110.3,109.0ZM316.7,86.0L316.7,89.0L318.3,91.0L321.7,92.3L325.3,92.7L327.3,93.7L332.3,98.7L335.0,100.3L337.0,100.7L342.7,104.0L346.0,105.0L350.7,107.3L357.7,108.0L363.7,110.3L371.3,111.7L377.7,115.7L382.7,117.7L385.3,119.7L390.7,122.0L395.7,123.0L405.0,128.3L408.7,131.7L408.7,138.0L409.7,139.7L412.3,141.7L418.7,143.7L433.3,143.3L438.3,142.0L443.3,137.0L444.7,136.7L444.7,130.7L442.7,129.0L441.0,126.0L437.3,122.3L428.7,120.7L424.7,117.0L421.3,113.0L415.0,109.3L411.7,108.3L408.7,108.3L406.7,109.0L401.0,109.0L393.7,105.0L390.0,103.7L385.0,100.7L379.7,99.0L374.7,94.3L371.7,90.3L369.7,86.7L369.3,83.0L368.7,81.7L364.7,79.3L352.7,76.7L343.3,76.7L339.3,78.0L334.3,78.3L330.7,79.3L324.0,79.7L318.7,83.0ZM355.0,30.3L353.0,29.3L347.0,30.7L334.0,36.0L327.3,39.3L324.0,40.3L319.3,43.7L319.3,46.0L321.0,48.0L323.3,49.0L328.3,49.0L334.3,47.7L338.7,45.0L342.7,43.3L350.3,37.7L354.0,34.0Z"/>
<path fill="#1E7896" fill-rule="evenodd" d="M233.0,146.0L232.3,147.0L232.7,149.0L233.7,149.7L235.3,149.7L236.3,148.7L236.0,146.7L234.7,145.7ZM391.7,118.3L392.0,119.7L393.7,121.0L396.0,121.7L401.7,125.3L408.3,128.3L419.0,129.3L424.3,127.3L426.3,125.0L426.3,122.0L424.7,119.3L419.7,116.3L410.0,116.7L404.7,115.3L401.7,115.3L393.7,116.3ZM240.7,111.7L237.7,111.0L232.0,111.0L229.0,111.7L225.7,114.0L224.7,116.0L225.0,120.0L226.0,122.7L229.3,126.7L231.7,128.0L234.7,128.3L238.3,126.7L241.7,123.7L244.0,119.3L244.0,116.3L242.3,112.7ZM110.3,112.3L110.3,114.7L111.7,117.3L113.7,119.7L117.3,121.3L120.0,121.3L121.7,122.0L125.3,125.7L127.7,129.7L130.0,131.7L132.3,132.7L134.7,132.7L137.0,131.3L137.7,129.3L137.7,127.3L137.0,125.7L135.3,124.0L129.7,121.7L127.3,118.7L122.0,113.7L116.0,111.0L113.3,111.0ZM328.7,83.7L328.3,85.7L329.0,88.0L334.7,96.0L340.0,98.3L343.7,101.0L349.0,102.7L352.0,105.0L355.0,106.0L359.3,106.3L364.7,108.0L368.3,108.0L373.7,106.3L376.7,104.3L377.7,102.7L377.7,100.7L377.0,99.0L373.0,94.3L370.3,90.0L369.3,89.0L367.3,88.3L364.7,86.3L362.3,83.7L359.7,82.0L353.0,82.0L347.7,80.0L344.3,80.0L341.3,81.0L336.7,80.7L335.3,81.3L332.3,81.3L330.0,82.0ZM351.0,32.7L350.0,31.3L348.7,31.3L342.7,33.3L338.3,35.7L333.7,37.0L325.7,41.3L324.3,42.7L324.3,44.0L325.7,45.3L328.7,46.7L331.3,46.3L336.0,44.7L342.7,41.3L350.0,35.0Z"/>
<path fill="#123282" fill-rule="evenodd" d="M127.0,124.0L127.3,126.3L129.7,129.7L132.3,131.0L135.0,130.3L135.3,127.0L133.7,125.0L129.3,123.3L127.7,123.3ZM400.3,120.3L400.3,121.7L402.3,123.7L409.0,127.0L418.0,127.0L421.0,126.0L422.7,124.3L422.7,121.7L421.7,120.7L418.3,119.3L414.7,119.7L408.0,118.7L403.0,119.0ZM112.3,114.3L113.3,117.0L114.7,118.3L117.0,119.3L120.7,119.3L121.7,119.0L122.7,117.7L121.0,115.3L116.7,113.0L113.7,113.0ZM227.0,115.0L226.3,116.3L227.0,120.3L228.7,122.3L230.3,123.0L234.3,123.7L237.7,123.3L240.3,121.0L241.7,118.3L241.3,115.7L240.3,114.0L236.3,112.3L232.7,112.3L229.7,113.0ZM343.0,94.3L343.3,97.3L345.0,99.0L349.0,100.7L352.7,103.3L356.0,104.7L360.0,105.0L363.0,106.0L369.3,106.3L372.7,105.0L374.7,102.0L374.3,100.3L369.3,96.0L362.7,93.0L358.0,93.3L355.0,92.3L344.3,93.0ZM332.7,86.7L332.0,87.7L332.3,88.7L333.3,89.7L335.3,90.0L335.3,87.3L334.0,86.3ZM339.0,39.0L338.0,37.7L334.3,38.0L330.0,40.7L329.0,41.7L329.0,43.3L330.0,44.0L332.7,44.0L338.0,41.7L339.0,40.3Z"/>
</g>
<use href="#marmara" fill="#fff" stroke="#000" stroke-width="1.2" stroke-linejoin="round"/>
<use href="#bas"/>
<use href="#coast" fill="none" stroke="#000" stroke-width="1.35" stroke-linejoin="round"/>
<use href="#lab"/>
</g>
<rect x="2.5" y="3" width="510.70000000000005" height="162.0" fill="none" stroke="#333" stroke-width="1.1"/>
<text x="44.4" y="21.0" font-size="10.4" font-weight="bold" fill="#111">EBK Spring</text>
<path d="M425.6,19.1 L422.9,28.4 L425.6,31.1Z" fill="#111" stroke="#000" stroke-width="0.45"/>
<path d="M425.6,19.1 L428.3,28.4 L425.6,31.1Z" fill="#fff" stroke="#000" stroke-width="0.45"/>
<path d="M438.4,31.1 L428.3,28.4 L425.6,31.1Z" fill="#111" stroke="#000" stroke-width="0.45"/>
<path d="M438.4,31.1 L428.3,33.8 L425.6,31.1Z" fill="#fff" stroke="#000" stroke-width="0.45"/>
<path d="M425.6,43.1 L428.3,33.8 L425.6,31.1Z" fill="#111" stroke="#000" stroke-width="0.45"/>
<path d="M425.6,43.1 L422.9,33.8 L425.6,31.1Z" fill="#fff" stroke="#000" stroke-width="0.45"/>
<path d="M412.8,31.1 L422.9,33.8 L425.6,31.1Z" fill="#111" stroke="#000" stroke-width="0.45"/>
<path d="M412.8,31.1 L422.9,28.4 L425.6,31.1Z" fill="#fff" stroke="#000" stroke-width="0.45"/>
<text x="425.6" y="17.2" font-size="8.6" text-anchor="middle" fill="#000">N</text>
<text x="425.6" y="51.5" font-size="8.6" text-anchor="middle" fill="#000">S</text>
<text x="408.2" y="34.0" font-size="8.6" text-anchor="middle" fill="#000">W</text>
<text x="441.6" y="34.0" font-size="8.6" text-anchor="middle" fill="#000">E</text>
<text x="446.2" y="13.6" font-size="9.3" font-weight="bold" fill="#111">P (mm)</text>
<rect x="445.4" y="17.30" width="23.3" height="11.1" fill="#C8533A" stroke="#7a7a7a" stroke-width="0.9"/>
<text transform="translate(472.8,26.30) scale(0.925,1)" font-size="9.1" fill="#111">89 - 120</text>
<rect x="445.4" y="30.50" width="23.3" height="11.1" fill="#E07A2E" stroke="#7a7a7a" stroke-width="0.9"/>
<text transform="translate(472.8,39.50) scale(0.925,1)" font-size="9.1" fill="#111">121 - 140</text>
<rect x="445.4" y="43.70" width="23.3" height="11.1" fill="#F0A41E" stroke="#7a7a7a" stroke-width="0.9"/>
<text transform="translate(472.8,52.70) scale(0.925,1)" font-size="9.1" fill="#111">141 - 160</text>
<rect x="445.4" y="56.90" width="23.3" height="11.1" fill="#FFD81C" stroke="#7a7a7a" stroke-width="0.9"/>
<text transform="translate(472.8,65.90) scale(0.925,1)" font-size="9.1" fill="#111">161 - 180</text>
<rect x="445.4" y="70.10" width="23.3" height="11.1" fill="#C4F01C" stroke="#7a7a7a" stroke-width="0.9"/>
<text transform="translate(472.8,79.10) scale(0.925,1)" font-size="9.1" fill="#111">181 - 200</text>
<rect x="445.4" y="83.30" width="23.3" height="11.1" fill="#38DC10" stroke="#7a7a7a" stroke-width="0.9"/>
<text transform="translate(472.8,92.30) scale(0.925,1)" font-size="9.1" fill="#111">201 - 220</text>
<rect x="445.4" y="96.50" width="23.3" height="11.1" fill="#22C450" stroke="#7a7a7a" stroke-width="0.9"/>
<text transform="translate(472.8,105.50) scale(0.925,1)" font-size="9.1" fill="#111">221 - 240</text>
<rect x="445.4" y="109.70" width="23.3" height="11.1" fill="#25A088" stroke="#7a7a7a" stroke-width="0.9"/>
<text transform="translate(472.8,118.70) scale(0.925,1)" font-size="9.1" fill="#111">241 - 270</text>
<rect x="445.4" y="122.90" width="23.3" height="11.1" fill="#1E7896" stroke="#7a7a7a" stroke-width="0.9"/>
<text transform="translate(472.8,131.90) scale(0.925,1)" font-size="9.1" fill="#111">271 - 300</text>
<rect x="445.4" y="136.10" width="23.3" height="11.1" fill="#123282" stroke="#7a7a7a" stroke-width="0.9"/>
<text transform="translate(472.8,145.10) scale(0.925,1)" font-size="9.1" fill="#111">> 300</text>
<path d="M267.4,164.7 L390.0,164.7 M267.40,164.7 v-7.7 M282.73,164.7 v-5 M298.06,164.7 v-6 M313.39,164.7 v-5 M328.72,164.7 v-7.7 M344.05,164.7 v-5 M359.38,164.7 v-5 M374.71,164.7 v-5 M390.04,164.7 v-7.7" stroke="#111" stroke-width="1.15" fill="none"/>
<text x="267.4" y="151.9" font-size="10.6" text-anchor="middle" fill="#111">0</text>
<text x="298.1" y="151.9" font-size="10.6" text-anchor="middle" fill="#111">150</text>
<text x="328.7" y="151.9" font-size="10.6" text-anchor="middle" fill="#111">300</text>
<text x="381.4" y="151.9" font-size="10.6" fill="#111">600 Km</text>
<g transform="matrix(1.002,0,0,1.002,1.2,173.0)">
<g clip-path="url(#land)">
<rect x="0" y="0" width="445" height="166" fill="#C8533A"/>
<path fill="#E07A2E" fill-rule="evenodd" d="M0.0,148.0L0.0,165.7L22.7,165.7L22.3,164.7L20.7,163.7L16.0,163.3L7.7,155.3L3.3,152.7ZM0.0,0.0L0.0,75.0L1.7,74.0L7.3,74.0L10.0,75.0L19.0,77.0L21.3,77.0L24.3,78.0L26.7,80.7L29.3,85.7L30.7,90.3L34.0,93.7L36.7,99.0L41.3,102.7L43.0,107.0L46.3,109.7L47.7,112.7L47.7,114.7L49.0,117.3L50.0,122.0L52.3,126.7L54.3,128.0L57.3,128.7L60.3,132.0L65.3,135.0L72.0,138.0L75.7,140.7L87.7,144.0L92.7,144.3L94.7,143.3L97.3,143.0L102.0,143.7L104.0,142.7L107.7,139.0L109.3,138.7L110.7,140.7L110.7,143.3L112.0,148.3L112.3,153.0L110.3,161.7L109.0,163.0L106.3,164.3L105.3,165.7L151.0,165.7L148.7,163.3L148.0,161.7L147.7,155.0L146.7,152.3L146.7,149.0L147.7,143.0L149.7,139.0L151.7,137.0L158.3,135.7L161.0,135.7L169.7,138.3L173.7,138.7L177.7,137.0L185.7,137.3L190.0,136.3L194.0,136.7L198.0,134.3L200.7,135.3L202.7,138.0L203.7,151.3L203.7,158.0L200.7,163.0L198.0,165.7L266.0,165.7L263.0,165.3L258.3,162.7L256.7,162.3L254.7,160.0L254.7,130.3L254.0,128.7L251.3,125.7L251.3,121.7L252.0,120.3L256.0,116.7L257.7,110.0L259.3,107.3L267.3,104.0L274.0,100.3L277.0,99.7L280.7,96.7L281.3,94.0L284.7,91.3L288.0,87.7L291.3,86.0L294.3,85.7L301.0,82.0L303.0,82.7L310.3,82.0L317.7,85.0L320.0,87.3L329.0,92.0L333.3,92.7L337.7,95.3L344.0,95.7L350.7,98.3L357.0,99.7L363.0,102.3L368.7,102.0L371.0,103.0L375.0,103.7L382.0,107.7L386.0,108.7L405.3,118.3L409.7,122.3L412.3,123.7L416.0,127.3L418.3,132.7L418.3,135.7L417.3,137.7L417.3,140.3L418.3,143.0L418.0,152.7L413.0,158.7L408.7,160.3L405.7,162.7L399.3,165.7L444.7,165.7L444.7,0.0Z"/>
<path fill="#F0A41E" fill-rule="evenodd" d="M444.7,153.3L442.0,154.7L438.7,155.0L435.7,156.0L433.0,159.7L430.0,161.7L427.3,162.3L421.0,162.3L416.7,163.7L414.0,163.0L410.0,164.0L408.0,165.7L444.7,165.7ZM0.0,152.3L0.0,165.7L15.7,165.7L9.3,159.0ZM0.0,0.0L0.0,61.3L2.3,61.3L4.3,62.7L8.0,63.3L11.3,64.7L16.0,65.3L24.3,68.0L29.7,68.3L33.3,69.7L45.7,70.0L57.0,75.0L60.7,79.3L63.3,84.7L64.7,88.3L65.0,91.3L67.3,96.7L67.0,100.7L65.7,102.0L65.0,104.7L65.0,112.0L66.3,116.0L69.0,120.0L73.7,124.0L79.0,126.3L81.3,128.3L84.0,129.3L86.3,131.0L92.3,132.7L97.0,135.7L102.7,135.3L104.7,134.7L109.0,134.7L113.7,132.7L118.7,131.7L128.7,126.7L133.0,128.0L137.0,128.3L140.0,130.0L144.0,130.0L146.0,129.3L147.3,128.0L147.7,123.7L145.3,120.0L145.0,117.7L147.7,110.0L150.3,105.0L150.7,103.0L153.0,99.0L158.0,94.3L165.7,91.0L175.7,91.0L177.7,92.0L183.7,93.3L187.7,97.0L191.7,102.3L193.3,106.3L193.7,111.0L192.0,112.7L187.0,114.3L185.7,115.7L185.7,117.7L187.7,119.7L192.0,120.3L193.7,121.3L196.7,128.3L198.7,130.3L200.0,132.7L204.0,136.7L204.3,146.0L205.0,149.3L205.0,158.3L200.7,165.7L231.3,165.7L229.3,164.3L226.0,163.7L223.0,162.3L221.7,160.0L221.3,156.7L223.0,153.7L223.3,150.0L225.0,146.7L227.7,143.3L233.3,140.3L241.0,138.3L242.7,137.0L243.7,135.0L244.3,127.0L244.0,123.0L242.0,117.3L239.3,113.0L239.3,109.3L244.3,99.3L247.3,96.7L248.7,94.3L254.3,88.3L256.3,85.3L259.7,82.3L269.7,78.7L273.0,75.3L277.0,74.0L279.7,74.7L283.0,74.0L288.7,74.0L293.3,72.7L305.3,72.7L309.0,74.0L312.3,74.3L316.3,77.0L319.7,77.3L322.7,79.3L330.0,81.7L340.3,83.7L347.3,83.3L354.0,85.7L359.7,85.7L364.3,87.7L366.3,87.3L370.3,82.0L374.0,80.3L379.7,78.7L384.3,78.0L387.0,76.7L392.7,76.3L397.3,77.3L400.3,79.7L406.0,87.0L407.3,90.0L407.7,94.0L410.3,97.3L411.3,101.3L413.0,102.7L417.0,103.3L423.0,111.3L429.3,115.0L435.0,117.0L440.7,122.3L442.0,125.0L443.3,132.3L444.0,134.0L444.7,134.3L444.7,0.0ZM221.0,98.3L221.7,100.7L218.7,103.7L214.3,105.3L203.3,111.3L200.3,111.0L199.0,109.7L199.0,107.0L200.7,103.3L205.0,98.7L208.7,96.3L214.7,95.3L218.3,96.3Z"/>
<path fill="#FFD81C" fill-rule="evenodd" d="M242.3,134.7L243.0,126.7L242.3,122.0L240.7,118.0L237.7,113.3L233.0,110.3L228.0,110.0L224.0,109.0L219.7,110.7L216.3,110.7L215.0,111.7L213.7,114.3L211.7,116.0L209.3,116.0L204.7,114.0L196.0,113.0L188.7,115.3L187.3,116.3L187.7,117.7L193.0,119.0L198.0,121.3L207.0,121.3L214.0,122.3L215.3,123.7L216.0,125.3L218.7,127.3L222.3,128.0L225.0,129.3L231.0,129.3L232.7,130.7L234.3,135.0L236.3,137.0L239.7,137.3L241.0,136.7ZM0.0,0.0L0.0,50.0L2.3,49.7L4.3,48.7L2.7,44.0L2.7,40.3L4.0,39.0L5.3,38.3L10.0,39.0L16.3,41.7L17.7,43.0L17.7,46.3L16.0,47.7L11.7,48.7L11.0,49.3L11.0,50.3L17.3,54.7L21.0,62.3L23.3,65.0L24.7,65.7L30.0,65.7L32.3,66.3L34.3,66.0L36.0,64.7L40.3,63.0L43.7,59.3L46.7,57.0L48.3,54.7L53.7,53.3L57.0,53.3L64.0,59.3L67.7,61.0L69.3,62.7L71.0,66.0L75.3,68.0L80.7,72.0L85.0,76.7L86.3,79.3L98.0,89.3L109.0,100.3L111.3,103.3L114.3,104.7L119.3,105.0L123.3,102.3L125.0,97.7L130.0,92.0L130.3,89.7L131.7,87.0L138.7,80.0L144.7,79.0L155.7,73.7L159.3,73.3L160.7,71.7L163.0,64.7L164.3,63.3L167.7,57.7L172.3,54.3L174.7,53.3L179.3,53.0L182.0,54.0L186.3,54.0L193.0,56.0L195.7,56.0L198.3,58.3L200.3,62.3L209.7,63.7L211.3,64.3L214.7,64.0L225.0,60.3L236.7,58.7L240.3,56.7L242.0,56.3L248.0,56.3L251.0,58.0L256.7,58.0L264.7,60.0L278.0,59.7L283.0,61.0L286.0,61.0L294.3,58.3L296.7,58.3L300.0,60.0L303.0,60.0L304.7,60.7L308.3,64.3L313.3,65.0L315.7,66.0L322.3,67.3L326.7,69.3L337.3,71.3L343.0,71.0L347.0,73.0L354.0,73.3L359.0,75.0L361.0,75.0L363.7,73.7L370.0,75.0L381.7,75.7L383.7,74.3L387.3,74.0L393.7,74.3L396.0,75.0L403.0,74.7L405.7,77.3L407.3,78.0L408.7,79.3L410.0,83.3L413.0,87.0L414.7,90.7L417.3,93.7L419.7,99.3L420.3,105.0L422.7,109.0L426.0,112.0L436.3,116.0L444.7,124.7L444.7,0.0ZM115.0,61.3L115.3,59.3L117.0,58.0L120.3,56.7L124.0,56.0L127.0,56.0L129.3,57.0L134.0,57.0L137.7,58.7L139.0,60.0L138.0,62.0L134.3,63.3L131.7,63.7L129.7,65.0L120.7,64.7L116.3,63.0Z"/>
<path fill="#C4F01C" fill-rule="evenodd" d="M224.7,114.0L223.0,117.0L223.0,121.0L224.7,123.3L226.7,124.0L233.0,122.7L234.3,121.3L234.3,117.3L232.7,115.0L227.3,113.7ZM0.0,0.0L0.0,31.7L4.3,30.7L11.7,30.7L12.7,30.0L14.0,30.0L16.3,33.0L25.3,41.7L29.7,42.3L37.3,42.0L40.7,43.0L43.7,45.7L46.0,46.7L51.3,47.0L56.0,49.0L60.7,49.3L65.0,51.0L67.3,51.3L69.7,52.7L79.0,61.0L81.3,62.0L91.3,62.3L101.0,56.0L107.0,53.7L114.7,53.7L118.7,52.7L131.3,53.0L136.0,51.7L144.7,52.3L149.7,51.3L155.7,49.0L159.7,49.0L169.0,46.7L175.0,47.0L181.0,46.3L183.0,47.3L185.7,47.7L190.0,46.7L199.7,50.3L204.3,49.0L207.0,47.7L209.7,45.3L218.7,41.7L228.7,42.0L235.3,43.7L241.0,46.0L243.7,48.7L248.3,50.3L251.7,53.3L253.7,54.3L262.3,55.0L265.3,56.0L275.7,55.7L288.3,56.7L293.7,54.7L304.3,54.7L309.3,55.7L313.0,58.0L318.0,59.3L327.0,58.3L329.7,59.7L332.3,59.3L336.0,57.3L340.0,56.3L344.0,57.7L349.7,61.0L355.0,62.7L367.0,62.7L373.3,63.3L376.0,62.3L384.3,62.3L387.7,63.3L395.0,63.0L397.0,63.7L405.7,62.3L408.7,61.3L412.3,61.3L417.7,59.7L421.3,59.7L423.0,60.3L430.0,60.0L433.0,59.3L436.0,57.7L440.7,57.7L444.7,59.0L444.7,0.0Z"/>
<path fill="#38DC10" fill-rule="evenodd" d="M230.3,117.7L228.7,117.0L226.7,117.7L226.7,119.3L229.3,119.7L230.3,119.0ZM0.0,0.0L0.0,29.0L4.3,28.7L8.0,27.7L12.7,25.0L16.7,24.7L20.0,23.0L23.3,22.7L25.3,21.0L28.3,21.0L34.0,25.3L40.7,28.3L44.7,31.0L53.3,33.7L55.0,35.7L56.3,36.3L61.0,36.7L65.3,39.0L74.3,40.0L78.3,43.0L85.3,45.3L90.3,49.0L92.7,50.0L100.3,49.3L111.3,50.0L117.3,48.0L124.3,48.7L131.0,47.0L136.0,45.0L146.7,45.7L149.0,45.0L152.3,42.7L159.0,42.7L163.0,41.3L167.0,41.3L170.0,40.3L177.0,40.7L180.3,39.7L184.7,39.7L192.3,38.7L200.7,38.7L211.0,37.0L218.3,37.0L221.0,36.3L226.3,37.3L232.7,37.3L236.0,38.7L239.7,39.0L247.7,44.3L253.0,45.7L259.7,49.3L263.7,50.0L267.3,52.7L273.3,52.3L285.3,53.0L292.0,50.7L297.0,51.7L300.7,50.7L303.7,50.7L306.3,51.7L311.7,51.7L318.0,53.3L324.0,52.7L328.0,53.7L332.3,52.0L339.0,51.3L344.3,53.0L348.7,56.3L354.3,58.0L362.0,57.7L368.0,59.7L372.7,58.7L388.7,60.3L391.7,59.7L400.3,59.7L405.7,55.0L407.0,52.7L409.0,50.7L410.7,50.0L416.0,50.3L423.3,49.0L430.0,47.0L436.7,47.3L440.0,45.7L444.7,46.0L444.7,0.0Z"/>
<path fill="#22C450" fill-rule="evenodd" d="M444.7,30.7L444.7,18.3L440.7,17.3L438.3,15.0L434.0,13.3L430.0,10.0L420.3,10.7L417.0,8.7L413.7,7.7L394.3,6.3L392.7,5.7L386.3,6.7L379.3,6.7L371.3,6.0L367.7,4.0L366.7,4.0L361.7,6.0L359.0,6.0L355.7,4.7L348.3,5.3L345.3,4.3L333.3,4.7L328.3,6.3L317.3,4.3L315.0,4.3L310.7,5.7L300.3,5.0L295.7,6.0L292.3,4.7L285.3,5.0L283.3,4.3L277.7,4.3L272.0,5.3L267.3,5.0L259.3,7.3L251.3,6.7L247.0,7.0L241.7,8.3L233.7,8.7L232.7,9.0L231.7,10.7L231.7,13.7L232.7,16.0L232.3,22.3L235.0,26.3L236.3,30.3L238.3,33.3L240.7,34.0L250.7,39.0L261.0,45.7L267.3,46.3L269.7,47.3L274.7,48.3L280.3,48.3L283.0,49.3L287.0,49.3L292.0,47.7L298.7,47.7L300.3,47.0L314.3,48.0L321.7,49.7L329.3,49.7L333.0,48.7L340.7,48.3L346.3,50.3L350.0,53.3L355.3,54.7L373.0,55.3L376.0,56.7L383.0,56.3L386.7,57.0L389.3,56.3L397.7,56.3L402.3,54.0L406.3,50.0L408.3,49.0L418.7,47.3L425.3,45.0L430.7,44.0L432.7,43.0L439.3,37.3L443.7,31.0ZM363.7,34.0L365.7,34.3L368.3,36.0L370.0,37.7L371.7,41.0L371.7,44.7L370.7,47.7L369.3,50.0L366.7,52.0L364.0,52.0L359.3,51.0L357.0,49.3L356.3,47.7L357.0,45.0L357.0,39.3L357.7,37.3L359.7,35.3ZM187.3,11.3L187.0,10.3L184.0,9.3L179.3,6.3L166.0,4.3L155.0,4.0L151.0,5.3L148.0,4.7L143.3,5.3L137.7,5.3L136.3,4.7L133.0,4.7L130.7,5.3L118.3,4.7L113.0,5.3L110.3,6.7L100.0,6.3L98.0,7.0L95.3,7.0L91.7,6.0L89.7,6.7L87.3,8.3L84.0,8.7L81.3,9.7L75.7,14.3L75.0,20.0L74.3,21.7L74.3,24.7L75.3,26.7L75.3,29.0L74.0,31.3L74.3,36.0L75.0,37.7L79.3,41.0L84.7,43.0L90.3,46.3L93.7,46.7L98.0,45.3L109.0,45.3L112.7,44.3L118.7,40.7L123.0,40.3L126.7,38.3L132.0,37.3L135.3,34.7L139.3,33.0L141.7,31.3L146.3,29.3L157.0,26.0L161.3,23.7L165.7,22.7L168.7,21.3L173.3,21.0L176.3,19.3L181.0,19.3L183.7,17.7L186.3,15.0Z"/>
<path fill="#25A088" fill-rule="evenodd" d="M380.7,22.3L375.0,28.3L374.0,31.3L374.3,35.7L376.3,40.3L378.0,46.3L381.0,49.3L384.0,50.3L389.3,53.3L398.3,53.3L402.0,51.7L403.3,49.3L403.0,44.0L398.7,35.3L394.0,31.3L392.0,28.3L386.7,23.0L384.3,21.7L382.3,21.7ZM150.7,22.7L149.3,21.3L140.7,22.3L133.3,24.3L129.0,26.3L120.7,27.7L119.3,28.7L119.0,30.3L120.7,32.3L125.0,34.3L130.0,34.3L136.3,32.3L140.7,29.3L148.3,26.3L150.0,24.7ZM357.7,29.0L356.7,25.0L356.7,21.3L350.3,18.0L347.0,17.3L339.7,17.7L335.3,16.0L331.0,16.0L327.3,14.3L318.0,15.0L315.0,14.7L309.0,15.3L307.3,16.0L305.0,16.0L300.3,14.7L297.3,14.7L294.0,15.7L291.0,15.7L288.7,15.0L273.3,15.0L266.7,15.7L257.7,15.3L251.7,17.7L250.3,19.0L249.3,22.3L249.3,24.0L251.3,31.0L253.3,36.3L254.7,38.0L258.7,40.3L263.7,42.3L268.0,43.0L272.7,44.7L282.0,44.7L284.0,45.3L286.7,45.3L293.7,42.7L299.3,43.0L304.0,42.0L307.7,43.3L311.7,44.0L321.7,47.7L332.0,47.7L345.7,45.0L348.3,43.7L352.0,40.3L353.0,40.0L355.0,37.7L357.3,31.7Z"/>
<path fill="#1E7896" fill-rule="evenodd" d="M299.7,38.7L299.0,37.0L297.3,36.0L292.3,36.0L288.0,34.3L280.0,35.7L274.0,38.3L273.0,40.0L274.7,41.7L286.0,43.0L294.0,41.0L297.3,41.0L298.7,40.3ZM355.3,28.0L353.3,28.0L346.7,31.3L340.3,33.0L331.7,36.3L327.3,40.7L325.0,42.0L324.7,44.0L327.3,45.7L331.7,46.0L339.7,44.0L347.7,40.7L351.7,37.7L353.7,35.3L355.7,31.0Z"/>
<path fill="#123282" fill-rule="evenodd" d="M351.3,31.3L349.3,31.3L346.3,33.0L333.3,37.7L331.7,39.3L331.7,41.7L332.7,42.7L336.3,43.0L338.7,42.3L344.0,39.3L346.7,38.7L350.3,34.7L351.3,32.7Z"/>
</g>
<use href="#marmara" fill="#fff" stroke="#000" stroke-width="1.2" stroke-linejoin="round"/>
<use href="#bas"/>
<use href="#coast" fill="none" stroke="#000" stroke-width="1.35" stroke-linejoin="round"/>
<use href="#lab"/>
</g>
<rect x="2.5" y="169.5" width="510.70000000000005" height="161.9" fill="none" stroke="#333" stroke-width="1.1"/>
<text x="43.9" y="182.3" font-size="10.4" font-weight="bold" fill="#111">EBK Summer</text>
<path d="M425.6,180.9 L422.9,190.2 L425.6,192.9Z" fill="#111" stroke="#000" stroke-width="0.45"/>
<path d="M425.6,180.9 L428.3,190.2 L425.6,192.9Z" fill="#fff" stroke="#000" stroke-width="0.45"/>
<path d="M438.4,192.9 L428.3,190.2 L425.6,192.9Z" fill="#111" stroke="#000" stroke-width="0.45"/>
<path d="M438.4,192.9 L428.3,195.6 L425.6,192.9Z" fill="#fff" stroke="#000" stroke-width="0.45"/>
<path d="M425.6,204.9 L428.3,195.6 L425.6,192.9Z" fill="#111" stroke="#000" stroke-width="0.45"/>
<path d="M425.6,204.9 L422.9,195.6 L425.6,192.9Z" fill="#fff" stroke="#000" stroke-width="0.45"/>
<path d="M412.8,192.9 L422.9,195.6 L425.6,192.9Z" fill="#111" stroke="#000" stroke-width="0.45"/>
<path d="M412.8,192.9 L422.9,190.2 L425.6,192.9Z" fill="#fff" stroke="#000" stroke-width="0.45"/>
<text x="425.6" y="179.0" font-size="8.6" text-anchor="middle" fill="#000">N</text>
<text x="425.6" y="213.3" font-size="8.6" text-anchor="middle" fill="#000">S</text>
<text x="408.2" y="195.8" font-size="8.6" text-anchor="middle" fill="#000">W</text>
<text x="441.6" y="195.8" font-size="8.6" text-anchor="middle" fill="#000">E</text>
<text x="446.2" y="178.8" font-size="9.3" font-weight="bold" fill="#111">P (mm)</text>
<rect x="445.4" y="182.50" width="23.3" height="11.1" fill="#C8533A" stroke="#7a7a7a" stroke-width="0.9"/>
<text transform="translate(472.8,191.50) scale(0.925,1)" font-size="9.1" fill="#111">0 - 20</text>
<rect x="445.4" y="195.82" width="23.3" height="11.1" fill="#E07A2E" stroke="#7a7a7a" stroke-width="0.9"/>
<text transform="translate(472.8,204.82) scale(0.925,1)" font-size="9.1" fill="#111">21 - 40</text>
<rect x="445.4" y="209.14" width="23.3" height="11.1" fill="#F0A41E" stroke="#7a7a7a" stroke-width="0.9"/>
<text transform="translate(472.8,218.14) scale(0.925,1)" font-size="9.1" fill="#111">41 - 60</text>
<rect x="445.4" y="222.46" width="23.3" height="11.1" fill="#FFD81C" stroke="#7a7a7a" stroke-width="0.9"/>
<text transform="translate(472.8,231.46) scale(0.925,1)" font-size="9.1" fill="#111">61 - 80</text>
<rect x="445.4" y="235.78" width="23.3" height="11.1" fill="#C4F01C" stroke="#7a7a7a" stroke-width="0.9"/>
<text transform="translate(472.8,244.78) scale(0.925,1)" font-size="9.1" fill="#111">81 - 100</text>
<rect x="445.4" y="249.10" width="23.3" height="11.1" fill="#38DC10" stroke="#7a7a7a" stroke-width="0.9"/>
<text transform="translate(472.8,258.10) scale(0.925,1)" font-size="9.1" fill="#111">101 - 150</text>
<rect x="445.4" y="262.42" width="23.3" height="11.1" fill="#22C450" stroke="#7a7a7a" stroke-width="0.9"/>
<text transform="translate(472.8,271.42) scale(0.925,1)" font-size="9.1" fill="#111">151 - 200</text>
<rect x="445.4" y="275.74" width="23.3" height="11.1" fill="#25A088" stroke="#7a7a7a" stroke-width="0.9"/>
<text transform="translate(472.8,284.74) scale(0.925,1)" font-size="9.1" fill="#111">201 - 300</text>
<rect x="445.4" y="289.06" width="23.3" height="11.1" fill="#1E7896" stroke="#7a7a7a" stroke-width="0.9"/>
<text transform="translate(472.8,298.06) scale(0.925,1)" font-size="9.1" fill="#111">301 - 400</text>
<rect x="445.4" y="302.38" width="23.3" height="11.1" fill="#123282" stroke="#7a7a7a" stroke-width="0.9"/>
<text transform="translate(472.8,311.38) scale(0.925,1)" font-size="9.1" fill="#111">> 400</text>
<path d="M267.8,330.8 L390.4,330.8 M267.80,330.8 v-7.7 M283.13,330.8 v-5 M298.46,330.8 v-6 M313.79,330.8 v-5 M329.12,330.8 v-7.7 M344.45,330.8 v-5 M359.78,330.8 v-5 M375.11,330.8 v-5 M390.44,330.8 v-7.7" stroke="#111" stroke-width="1.15" fill="none"/>
<text x="267.8" y="318.0" font-size="10.6" text-anchor="middle" fill="#111">0</text>
<text x="298.5" y="318.0" font-size="10.6" text-anchor="middle" fill="#111">150</text>
<text x="329.1" y="318.0" font-size="10.6" text-anchor="middle" fill="#111">300</text>
<text x="381.8" y="318.0" font-size="10.6" fill="#111">600 Km</text>
<g transform="matrix(1.0108,0,0,1.008,-1.43,337.0)">
<g clip-path="url(#land)">
<rect x="0" y="0" width="445" height="166" fill="#C8533A"/>
<path fill="#E07A2E" fill-rule="evenodd" d="M215.0,100.0L210.3,99.7L206.7,101.3L202.7,101.7L202.0,102.3L205.0,103.3L207.3,103.3L212.7,102.0ZM0.0,0.0L0.0,165.7L444.7,165.7L444.7,0.0ZM351.0,134.0L351.0,135.0L349.3,136.3L336.3,138.3L329.3,138.0L326.0,139.3L320.3,139.3L317.3,138.3L315.0,138.3L312.7,139.3L310.0,139.7L306.3,138.7L294.0,138.3L285.7,139.7L281.0,139.7L277.0,138.3L272.3,138.3L266.7,136.7L265.0,134.7L265.0,131.3L266.3,127.3L270.7,122.7L273.7,121.0L279.3,119.3L283.0,117.3L287.7,116.7L292.7,117.0L295.7,115.7L299.7,115.0L307.7,115.0L311.7,113.7L313.0,115.3L316.7,118.0L321.0,119.7L324.7,120.0L331.7,122.0L334.3,124.7L346.7,128.3L349.0,130.7ZM92.0,106.0L96.3,105.7L97.7,106.0L99.0,107.7L100.0,112.0L100.0,116.7L99.3,118.0L96.7,120.0L92.7,119.7L89.3,116.3L89.0,110.3L90.7,107.0ZM404.7,51.7L407.3,52.0L410.7,54.0L414.3,55.3L417.3,57.3L420.7,61.3L423.3,63.3L425.0,68.3L424.7,71.7L422.7,73.7L419.3,74.7L415.7,74.7L414.7,75.0L414.0,76.0L414.3,78.3L417.7,86.3L418.0,95.7L415.0,102.0L412.3,104.3L409.7,104.3L408.0,103.0L407.3,101.7L407.3,100.0L409.3,97.0L409.7,85.7L407.7,77.3L405.3,74.7L398.3,70.7L396.7,68.3L396.7,66.0L398.7,63.0L398.7,61.3L397.0,58.7L397.0,55.7L398.7,53.7ZM362.7,41.7L363.7,41.7L367.0,46.0L367.7,48.3L367.7,58.0L367.0,59.7L364.3,62.0L361.7,62.0L358.3,59.0L357.0,57.0L356.0,52.0L356.0,49.3L357.0,46.7L360.3,42.7ZM89.7,66.0L91.7,64.7L96.0,67.7L101.0,70.0L103.0,70.3L103.7,69.7L104.3,66.7L104.7,61.7L109.7,57.0L115.0,56.3L119.7,54.3L124.3,54.0L128.7,52.7L136.3,52.7L139.3,51.0L147.3,53.0L150.3,54.3L153.7,54.0L155.0,53.3L158.0,50.3L159.3,47.0L159.0,45.3L157.0,41.7L157.0,40.0L158.3,38.7L164.3,36.7L168.3,37.7L170.7,37.7L174.7,36.7L178.3,37.3L185.0,37.0L192.0,38.3L193.0,39.0L194.7,42.3L198.0,46.0L198.3,50.0L202.0,62.0L205.3,64.7L211.7,68.0L214.0,68.7L216.7,68.3L219.7,70.0L221.7,70.3L229.0,70.3L233.7,69.0L236.0,69.0L239.0,70.3L245.3,70.0L250.7,72.0L254.7,72.0L258.0,73.3L262.3,78.0L266.0,78.7L268.3,80.3L269.7,79.3L272.0,74.0L274.7,72.0L275.3,72.7L275.3,80.0L274.3,83.7L273.3,84.7L271.3,89.0L271.3,92.7L270.3,96.0L268.7,98.0L267.3,97.0L264.7,97.0L262.3,97.7L258.3,97.3L250.0,93.0L247.3,90.7L244.0,89.0L238.3,88.0L234.0,89.0L226.3,92.7L223.3,95.7L221.3,99.0L216.7,104.7L206.7,109.3L198.3,115.7L194.3,121.0L189.7,125.0L183.7,128.3L180.0,128.3L173.0,130.7L171.3,130.7L167.3,129.0L163.0,128.7L158.3,127.3L151.7,123.3L148.3,122.0L147.3,121.0L145.7,117.0L145.3,111.0L146.3,108.7L146.0,100.0L143.7,97.0L141.0,96.0L138.3,94.0L133.0,93.0L130.7,91.0L126.3,89.0L122.0,88.3L119.7,87.3L113.3,87.7L109.3,86.3L107.0,83.7L101.7,81.3L97.7,77.7L94.0,76.7L92.3,75.0L89.7,68.7Z"/>
<path fill="#F0A41E" fill-rule="evenodd" d="M278.7,74.0L278.7,77.3L280.0,82.0L278.7,90.3L277.3,92.7L274.7,95.3L272.7,101.7L272.7,104.3L274.0,107.3L276.3,110.0L278.7,111.0L283.3,112.0L291.0,112.3L296.3,111.0L300.0,109.0L306.0,107.7L308.3,108.7L311.3,108.7L314.3,107.7L322.0,107.7L332.3,108.3L334.0,109.0L339.3,109.0L345.0,111.0L350.7,111.0L358.0,113.3L362.3,113.7L366.3,115.3L374.3,115.0L378.3,116.7L383.3,116.3L389.0,118.0L396.3,118.0L399.0,119.3L401.0,119.7L403.0,122.3L408.3,127.3L411.0,128.0L414.0,128.0L415.7,128.7L419.0,128.7L422.7,127.7L427.0,122.3L427.3,120.3L426.0,115.0L425.7,110.0L423.3,104.7L420.3,103.3L417.7,103.0L412.3,105.7L407.0,105.7L404.3,108.3L402.3,109.0L398.3,107.3L394.7,104.0L389.0,102.0L381.3,98.0L380.7,95.0L380.7,88.3L379.3,85.3L377.3,84.0L369.7,84.0L367.0,85.3L365.0,85.3L360.0,84.3L355.3,82.7L353.7,82.7L352.0,82.0L349.7,79.7L349.0,77.7L347.3,76.0L345.7,75.3L342.7,75.3L340.0,74.7L335.0,72.3L332.3,71.7L326.3,72.7L323.3,72.3L321.0,71.0L318.3,71.0L315.3,72.0L312.0,72.0L307.7,70.7L303.7,70.3L299.7,68.7L297.0,68.7L292.7,70.7L286.3,70.7L281.7,71.3L280.3,72.0ZM379.0,51.0L377.3,52.3L376.7,53.7L376.7,63.0L380.3,70.7L383.0,72.7L387.3,70.7L389.3,68.3L390.3,57.0L389.7,55.0L388.3,53.7L385.3,52.3L382.7,52.0L381.3,51.0ZM0.0,0.0L0.0,165.7L444.7,165.7L444.7,163.0L440.3,163.0L438.0,164.0L434.0,163.3L429.3,164.0L426.7,163.0L424.0,163.0L421.0,164.7L413.7,164.3L411.7,165.3L409.7,165.3L407.0,163.7L404.3,163.3L398.0,165.7L392.7,165.7L391.0,164.7L387.0,164.0L379.3,164.0L376.7,164.7L358.0,164.3L353.3,165.7L350.0,164.3L347.0,164.3L345.0,165.7L341.3,165.7L338.0,163.7L335.0,163.7L329.7,165.0L323.7,164.7L321.0,165.7L317.7,165.7L313.7,163.7L307.0,164.3L303.0,163.3L297.3,163.3L294.0,164.3L283.7,164.3L276.3,163.0L273.3,163.0L268.3,164.3L266.0,164.0L264.3,162.3L263.7,152.7L263.7,142.7L264.3,140.3L264.3,137.7L263.7,136.3L263.7,130.3L265.7,120.3L267.3,117.0L267.3,114.3L266.0,111.7L265.3,107.0L264.0,106.0L259.7,105.3L253.3,103.0L248.0,98.3L244.7,97.3L241.7,95.7L240.0,95.7L237.3,97.3L230.7,98.7L222.0,103.7L221.3,104.7L222.0,106.0L222.0,107.7L220.7,109.3L213.0,115.0L209.7,116.0L208.0,117.3L201.3,120.3L196.3,125.0L194.0,128.0L185.3,133.0L180.3,133.0L177.0,133.7L172.7,136.0L171.0,135.7L167.7,133.3L160.0,132.0L157.7,130.7L154.3,130.3L148.7,128.0L144.3,124.0L142.7,121.0L141.7,117.0L136.7,110.7L128.3,105.0L122.3,104.0L119.0,106.7L114.3,109.3L110.0,114.0L104.7,117.7L103.7,119.7L100.7,123.0L100.7,125.3L102.3,128.3L102.7,130.3L99.3,132.3L96.0,136.7L92.7,136.7L89.3,135.0L79.7,126.0L77.7,121.3L70.7,113.3L69.7,110.7L65.0,106.0L63.7,99.3L63.7,96.0L64.3,94.7L69.7,89.3L72.3,88.3L81.7,87.0L84.3,86.0L85.3,83.7L85.0,79.7L86.0,75.3L85.7,71.7L86.3,67.0L90.3,63.0L92.7,58.7L95.3,56.0L99.3,53.7L100.7,55.3L102.7,55.7L108.0,53.7L112.7,53.0L120.7,49.7L124.3,49.0L130.3,46.7L139.3,45.0L146.0,42.0L151.3,40.3L156.0,36.3L160.7,35.3L164.7,33.7L170.7,34.3L174.0,32.7L180.3,33.3L186.0,31.7L193.3,32.0L199.7,31.0L204.7,31.7L211.3,34.7L216.3,39.0L221.3,40.3L226.0,40.7L237.7,46.7L242.7,47.7L247.3,51.0L252.3,53.7L255.3,56.3L257.7,57.0L263.0,57.0L268.7,59.3L275.3,58.3L279.3,60.0L289.7,60.3L294.0,59.7L298.3,58.0L302.0,57.7L321.3,57.7L323.0,57.0L327.7,57.0L331.7,55.0L339.3,54.7L343.0,53.3L346.0,53.3L348.7,52.0L350.3,50.0L355.7,46.0L359.7,41.7L369.0,36.0L376.3,29.7L378.7,27.0L380.7,23.0L383.3,20.3L388.3,20.0L392.7,18.3L398.3,19.0L405.0,18.7L407.0,19.3L411.0,19.3L418.0,18.0L424.3,19.7L425.7,20.7L431.3,20.7L436.3,18.7L444.7,19.0L444.7,0.0Z"/>
<path fill="#FFD81C" fill-rule="evenodd" d="M407.0,117.3L404.0,119.3L404.0,121.0L405.0,122.3L407.7,123.0L409.7,121.7L410.0,119.0L409.3,118.0ZM250.0,113.7L244.0,113.7L238.3,112.3L234.3,112.3L231.3,113.0L228.3,115.3L223.3,115.3L221.7,116.3L220.0,118.7L220.0,129.0L222.3,134.0L225.0,137.3L224.7,147.7L226.3,151.0L234.3,155.7L237.0,156.0L241.3,154.3L244.3,151.7L247.7,145.0L247.3,139.0L248.7,137.3L250.7,136.7L252.0,135.3L253.7,131.7L254.0,123.3L254.7,122.0L254.7,119.7L252.0,115.3ZM326.0,85.7L326.0,88.0L327.7,91.0L334.0,97.3L341.3,101.3L350.0,103.3L353.3,103.3L359.0,105.7L360.7,105.7L363.3,104.7L371.3,105.3L375.7,103.3L378.0,100.0L378.0,98.0L376.3,94.0L374.3,91.7L368.0,90.7L357.7,85.7L352.0,85.0L344.7,81.7L333.7,81.3L328.0,83.7ZM283.3,79.7L284.3,82.0L285.7,83.0L290.7,85.3L293.3,86.0L301.0,85.3L304.0,83.0L305.0,80.7L304.3,78.7L303.3,77.7L298.0,75.3L288.3,75.7L284.3,77.7ZM0.7,130.7L1.3,132.3L4.3,134.3L9.7,140.0L19.0,145.7L23.3,146.7L31.7,146.0L39.0,147.0L45.0,150.3L47.7,150.3L50.3,149.3L57.3,148.7L59.0,149.3L66.3,149.3L68.3,150.0L73.7,150.0L77.0,148.7L82.7,149.7L88.0,148.3L93.7,148.0L95.7,147.3L105.3,147.7L107.7,147.0L111.7,147.0L117.7,151.0L124.7,151.3L133.0,153.3L142.0,152.7L149.7,155.0L160.0,154.3L165.0,155.3L169.7,155.3L173.7,153.7L180.0,153.0L181.3,152.3L184.0,152.3L186.3,153.3L190.0,153.0L192.7,153.7L201.0,153.3L205.7,151.3L211.3,151.3L215.7,149.3L217.0,147.7L217.0,146.3L212.7,137.3L210.7,135.3L209.7,133.3L209.7,131.0L210.7,128.7L210.3,124.3L207.0,120.0L205.7,120.0L202.0,121.7L197.3,126.3L195.7,130.3L189.0,136.0L190.0,139.0L189.3,140.7L188.0,142.0L185.0,143.3L179.0,143.7L176.0,144.7L173.7,144.7L172.3,144.0L165.7,143.0L162.7,141.7L159.0,141.0L157.7,139.3L157.3,136.0L156.0,135.0L152.3,134.0L150.0,132.7L147.3,128.7L143.3,124.3L141.0,120.3L137.3,117.7L136.0,116.0L131.7,113.7L125.7,112.7L119.3,109.7L116.0,110.0L111.7,114.3L108.7,116.3L102.3,123.3L102.0,124.3L104.0,128.3L104.3,131.3L103.0,132.7L100.3,133.0L98.7,134.7L96.7,139.0L95.0,140.3L89.7,139.7L87.3,138.7L85.0,136.0L83.3,132.3L78.3,127.7L67.0,123.3L57.3,124.7L54.0,123.7L48.7,121.0L45.0,117.7L43.0,114.0L43.3,111.0L46.7,108.7L58.3,105.7L59.3,103.7L59.0,102.7L56.3,101.3L53.0,101.3L47.7,99.0L41.3,99.0L39.7,98.3L37.0,96.0L33.3,96.0L29.0,97.7L27.7,96.3L27.3,92.7L28.3,88.0L31.0,85.3L33.7,80.3L39.3,75.7L41.0,72.7L43.7,69.7L45.0,66.7L50.0,60.7L57.3,58.7L70.0,59.0L74.3,60.7L79.3,60.3L86.3,57.3L91.7,56.7L100.3,51.3L103.3,51.3L106.0,50.0L108.7,50.0L111.3,48.7L114.3,48.0L125.7,47.3L127.7,46.3L129.7,43.7L132.7,41.3L135.7,40.7L139.7,38.7L144.0,38.3L149.7,35.0L157.3,32.7L162.7,29.7L169.0,29.3L174.3,27.7L178.3,27.7L184.3,25.7L202.0,26.0L205.7,27.7L210.0,28.7L212.3,30.3L212.3,31.0L211.3,31.7L212.3,32.7L216.7,33.0L221.0,35.7L226.3,36.0L231.0,38.0L233.7,40.0L237.0,40.7L240.3,43.0L242.7,43.7L250.3,48.0L255.0,48.7L257.7,49.7L260.7,52.0L263.0,52.7L266.0,52.7L269.0,54.0L275.3,54.0L280.3,55.3L289.3,55.3L293.0,53.3L298.0,52.3L301.3,52.3L303.0,53.3L310.0,52.7L314.3,54.3L317.0,54.3L322.0,53.0L324.0,51.3L329.3,51.7L333.3,49.7L339.3,49.3L344.0,47.7L347.0,47.7L349.3,46.7L352.3,44.3L356.0,43.0L359.0,40.0L366.0,35.7L374.0,29.3L377.3,26.0L379.3,22.3L381.7,19.7L387.3,18.3L388.3,17.3L389.7,13.7L392.0,10.0L392.0,9.0L391.3,8.3L385.0,7.3L369.7,2.7L367.7,2.7L364.0,4.3L359.7,4.3L357.0,3.3L351.3,3.0L348.0,0.7L343.3,0.0L337.7,0.0L336.0,1.0L323.7,1.0L321.0,0.0L319.0,0.0L317.7,0.7L314.3,0.7L313.7,0.0L109.3,0.0L108.7,0.7L105.0,1.3L99.7,4.3L97.3,6.7L94.0,14.3L94.0,22.7L93.0,23.7L85.0,23.3L80.7,22.3L72.3,22.7L67.3,21.0L62.3,20.7L53.0,17.7L47.7,13.3L41.7,12.3L35.7,10.0L26.3,10.3L23.0,9.3L15.0,9.7L13.0,11.3L8.3,13.3L7.0,17.0L3.7,21.3L3.3,24.7L1.3,28.7L1.3,34.3L2.0,37.0L2.0,43.0L2.7,45.0L2.7,47.7L5.3,52.7L8.0,55.0L8.3,57.0L6.0,64.7L3.0,69.3L1.0,77.7L1.7,87.0L3.3,91.3L4.3,96.7L7.0,102.0L7.0,103.3L5.0,108.3L3.0,110.3L2.3,112.0L1.0,120.3L1.7,127.3ZM74.3,45.0L74.3,46.0L71.3,51.0L69.3,52.3L66.0,52.3L63.3,50.7L59.7,50.7L58.3,51.3L53.0,51.0L51.3,49.7L51.3,48.7L52.7,47.3L56.3,47.0L61.0,44.7L65.0,44.7L68.7,43.3L72.7,43.3ZM18.0,22.7L19.0,20.0L22.3,17.3L31.3,16.7L34.3,17.7L37.7,21.0L40.0,24.3L40.3,25.7L40.0,26.7L36.3,29.7L33.3,30.7L31.3,32.0L29.0,32.3L21.3,30.0L18.3,25.7Z"/>
<path fill="#C4F01C" fill-rule="evenodd" d="M106.0,133.0L101.3,133.7L100.0,134.3L99.0,136.0L98.0,139.0L97.7,143.0L100.3,145.3L102.7,146.0L107.0,145.7L108.7,145.0L110.3,142.7L110.3,138.7L108.0,134.7ZM233.3,128.7L228.3,132.0L226.7,134.7L226.7,147.3L227.7,149.7L229.7,151.3L234.3,154.0L237.3,154.3L241.0,152.7L244.3,149.3L245.7,146.3L246.0,140.0L245.3,137.3L242.7,133.0L236.3,129.0ZM53.7,130.0L54.0,132.0L56.3,134.3L72.3,139.0L77.3,138.7L79.3,137.7L81.0,135.7L80.3,132.3L77.7,129.7L67.3,125.7L65.0,125.3L57.7,126.7L54.7,128.0ZM109.7,117.7L108.7,120.3L109.0,127.3L113.3,133.7L116.3,136.7L125.0,140.3L130.0,141.3L133.3,142.7L140.0,144.3L145.7,144.3L147.0,145.7L148.7,149.7L151.3,151.7L154.7,151.7L156.7,151.0L157.7,150.0L158.3,148.3L158.3,146.0L156.0,141.3L154.0,139.0L152.0,138.7L150.7,137.7L150.0,135.0L140.7,122.0L134.7,117.3L129.7,115.0L126.3,114.7L121.7,113.0L119.0,113.0L115.0,114.0ZM349.0,97.0L349.3,98.3L350.7,99.7L359.7,102.3L367.0,101.3L368.7,100.7L369.3,99.7L369.3,98.3L368.0,96.7L365.3,95.3L361.3,94.3L354.3,94.3L350.7,95.3ZM38.3,18.0L38.7,19.7L41.7,24.0L45.3,27.3L46.3,30.0L49.0,33.7L51.7,35.7L57.0,36.7L64.0,40.0L73.0,41.7L76.0,44.0L76.0,46.3L73.7,49.7L72.7,52.3L76.0,57.7L77.0,58.3L80.0,58.3L87.0,55.7L94.0,54.0L99.0,50.7L105.3,48.3L113.3,46.7L125.3,46.0L128.3,43.7L131.3,39.7L136.3,37.7L139.7,35.3L143.0,35.0L147.7,32.7L155.7,30.7L160.3,27.7L164.7,27.0L168.7,25.7L172.0,25.7L175.0,24.7L179.3,24.3L184.0,23.0L187.7,23.0L193.3,22.0L200.3,22.3L201.7,23.0L203.0,24.7L206.7,26.7L211.0,27.3L213.7,29.0L218.0,29.7L222.3,32.7L233.3,35.7L237.3,38.0L243.0,40.3L247.3,43.3L252.7,45.3L257.0,46.0L263.7,49.7L277.3,50.7L280.7,52.0L289.0,51.7L291.0,50.7L298.3,49.0L300.3,49.0L303.7,50.3L307.7,49.0L313.0,49.0L315.7,50.0L319.3,50.0L325.3,48.0L328.7,48.0L331.3,47.0L338.3,46.7L341.7,45.0L344.7,44.3L349.0,42.0L354.7,40.3L357.7,37.7L368.3,31.0L373.7,25.0L375.3,21.0L375.3,20.0L371.3,17.0L367.3,15.0L354.3,10.3L350.7,9.7L344.0,7.3L337.0,6.3L321.0,2.3L314.3,2.0L309.3,0.0L219.3,0.0L219.3,0.7L216.7,2.7L214.3,2.7L211.7,1.3L201.7,1.0L199.3,0.0L111.7,0.0L110.7,1.0L103.7,3.0L98.0,7.3L94.7,15.0L95.0,22.3L94.7,23.3L92.7,24.7L84.7,24.3L78.7,23.3L73.0,23.7L67.3,22.0L62.0,21.7L51.0,18.3L46.7,16.0L40.3,17.0Z"/>
<path fill="#38DC10" fill-rule="evenodd" d="M57.3,130.0L57.3,131.3L59.0,132.7L68.0,135.0L74.0,135.7L75.7,134.3L75.7,132.7L73.7,130.7L64.7,127.7L59.7,128.3ZM114.0,121.3L113.0,123.7L113.0,126.7L118.7,134.3L124.0,136.0L128.7,138.3L136.7,140.7L140.0,140.7L142.7,141.7L145.0,141.7L147.0,140.0L147.3,136.0L145.7,131.7L140.7,126.0L139.0,123.3L133.3,119.0L130.7,118.0L126.0,117.7L122.3,115.7L119.7,115.7L118.0,116.7ZM245.3,34.0L246.7,36.7L249.0,39.3L252.3,40.3L260.7,44.3L267.3,46.3L283.3,49.0L288.3,49.0L296.0,46.3L298.3,46.0L301.3,46.7L303.7,46.7L305.3,46.0L312.3,46.3L317.3,47.7L322.0,46.3L325.0,46.3L332.3,44.7L338.7,44.3L354.0,38.3L361.0,33.3L367.0,30.0L368.3,28.7L371.0,24.0L371.7,20.0L369.7,17.7L366.0,15.7L353.3,11.3L320.3,3.3L313.0,2.7L307.0,1.0L305.7,0.0L259.3,0.0L255.0,4.7L251.7,7.0L248.3,12.7L247.3,19.7L246.3,22.0L245.3,27.3ZM43.0,21.7L44.7,23.3L46.3,24.0L48.3,26.0L49.3,28.3L54.0,32.3L58.7,33.0L64.0,36.3L72.0,39.3L92.7,42.3L94.3,43.7L95.0,45.7L96.3,47.0L99.7,47.0L104.0,46.3L110.0,44.0L118.7,44.7L125.7,43.7L128.3,41.7L129.7,39.3L132.0,37.0L135.7,34.7L140.7,32.3L150.3,30.0L155.3,28.0L158.3,25.7L163.3,25.3L168.7,23.3L172.0,23.3L174.7,22.3L179.7,22.0L183.7,20.7L188.7,20.3L193.7,18.3L207.3,17.0L209.0,15.0L210.3,12.0L215.7,7.0L215.7,6.3L214.0,4.3L211.3,3.3L208.0,3.3L198.0,1.3L184.3,1.7L180.3,0.0L142.3,0.0L140.3,1.0L137.0,1.3L134.0,1.0L132.7,0.0L113.3,0.0L111.0,1.7L107.3,2.3L104.0,3.7L98.3,8.0L95.3,15.3L95.7,23.0L94.7,24.7L93.0,25.3L83.0,25.0L79.3,24.3L72.3,24.7L67.3,23.0L62.7,23.3L58.7,22.3L57.0,21.3L50.7,20.0L47.0,18.0L43.0,18.0L42.0,18.7Z"/>
<path fill="#22C450" fill-rule="evenodd" d="M120.3,123.3L120.3,126.0L122.7,130.3L128.3,134.0L137.0,137.0L141.0,136.7L142.3,135.7L142.7,133.0L141.3,130.7L136.3,125.3L131.7,122.7L129.0,122.3L126.7,121.3L122.7,121.7ZM251.7,36.0L253.0,38.0L261.0,42.0L266.7,43.0L269.0,44.0L275.7,44.7L282.0,46.3L287.3,46.3L296.7,43.7L300.7,43.3L309.3,44.0L311.3,43.7L315.7,45.0L324.7,44.3L335.0,42.0L341.0,41.3L350.7,37.7L356.3,34.7L358.7,32.7L365.0,29.7L366.7,28.0L368.7,23.3L369.3,19.7L368.0,18.0L365.0,16.3L358.7,14.7L354.0,12.7L343.3,9.7L339.7,9.3L319.3,4.3L313.0,4.0L308.7,2.3L306.3,2.0L299.7,2.3L296.0,0.3L288.3,2.0L278.0,1.7L267.0,5.7L261.7,10.3L258.7,14.7L258.0,18.0L255.3,22.3L253.3,28.3ZM153.0,11.0L151.7,8.0L146.3,3.7L143.3,2.3L134.7,2.3L131.0,1.0L130.3,0.0L115.0,0.0L112.3,2.0L107.0,3.7L101.7,6.3L99.0,8.7L96.3,15.3L97.0,18.0L97.0,23.3L95.0,25.7L93.3,26.3L79.0,26.0L76.0,28.3L76.0,32.0L77.0,34.0L78.7,35.3L83.7,36.0L85.3,37.0L90.7,38.0L93.7,39.3L96.0,43.3L96.7,43.7L99.0,43.7L101.0,42.3L111.0,40.7L113.7,40.7L116.0,41.7L126.0,41.3L128.3,39.7L130.7,35.3L135.0,31.3L141.3,29.0L146.0,28.7L152.3,25.3L153.3,22.3L153.3,19.7L152.7,17.7Z"/>
<path fill="#25A088" fill-rule="evenodd" d="M272.3,38.0L273.3,40.3L275.0,41.7L278.0,42.3L282.3,44.3L286.7,44.3L291.3,43.3L296.3,41.3L298.3,38.7L298.3,37.7L297.0,36.0L293.0,34.7L288.3,34.0L282.0,34.0L278.0,34.7ZM305.0,25.7L305.7,27.0L312.7,33.3L313.3,34.7L315.3,36.0L321.0,42.0L324.3,42.3L325.7,41.7L330.3,41.7L333.7,40.7L340.3,40.3L345.3,38.7L351.3,35.7L357.3,31.0L361.3,28.7L364.0,28.0L365.0,27.0L366.7,23.0L367.0,19.3L365.7,18.0L363.3,17.0L357.0,16.3L347.7,14.0L343.7,14.0L338.7,15.7L331.3,15.3L324.3,14.0L321.0,15.0L318.3,15.0L316.0,16.0L311.7,16.3L307.3,18.0L306.0,19.3L305.3,21.0Z"/>
<path fill="#1E7896" fill-rule="evenodd" d="M360.3,24.7L359.7,23.7L355.3,23.7L353.0,23.0L347.3,23.3L343.0,22.0L331.3,23.3L328.0,25.3L324.3,26.3L322.0,28.3L321.7,30.7L322.3,36.0L324.3,39.0L326.7,39.7L341.0,39.3L344.7,38.0L352.0,34.0L353.7,32.3L354.7,30.0L357.0,28.3Z"/>
<path fill="#123282" fill-rule="evenodd" d="M352.0,31.7L350.3,31.3L347.7,33.0L344.3,33.7L340.0,35.7L337.3,38.0L341.3,38.0L343.3,37.3L351.0,33.0Z"/>
</g>
<use href="#marmara" fill="#fff" stroke="#000" stroke-width="1.2" stroke-linejoin="round"/>
<use href="#bas"/>
<use href="#coast" fill="none" stroke="#000" stroke-width="1.35" stroke-linejoin="round"/>
<use href="#lab"/>
</g>
<rect x="2.5" y="335.4" width="510.70000000000005" height="161.8" fill="none" stroke="#333" stroke-width="1.1"/>
<text x="43.9" y="348.3" font-size="10.4" font-weight="bold" fill="#111">EBK Fall</text>
<path d="M425.6,346.7 L422.9,356.0 L425.6,358.7Z" fill="#111" stroke="#000" stroke-width="0.45"/>
<path d="M425.6,346.7 L428.3,356.0 L425.6,358.7Z" fill="#fff" stroke="#000" stroke-width="0.45"/>
<path d="M438.4,358.7 L428.3,356.0 L425.6,358.7Z" fill="#111" stroke="#000" stroke-width="0.45"/>
<path d="M438.4,358.7 L428.3,361.4 L425.6,358.7Z" fill="#fff" stroke="#000" stroke-width="0.45"/>
<path d="M425.6,370.7 L428.3,361.4 L425.6,358.7Z" fill="#111" stroke="#000" stroke-width="0.45"/>
<path d="M425.6,370.7 L422.9,361.4 L425.6,358.7Z" fill="#fff" stroke="#000" stroke-width="0.45"/>
<path d="M412.8,358.7 L422.9,361.4 L425.6,358.7Z" fill="#111" stroke="#000" stroke-width="0.45"/>
<path d="M412.8,358.7 L422.9,356.0 L425.6,358.7Z" fill="#fff" stroke="#000" stroke-width="0.45"/>
<text x="425.6" y="344.8" font-size="8.6" text-anchor="middle" fill="#000">N</text>
<text x="425.6" y="379.1" font-size="8.6" text-anchor="middle" fill="#000">S</text>
<text x="408.2" y="361.6" font-size="8.6" text-anchor="middle" fill="#000">W</text>
<text x="441.6" y="361.6" font-size="8.6" text-anchor="middle" fill="#000">E</text>
<text x="446.2" y="344.6" font-size="9.3" font-weight="bold" fill="#111">P (mm)</text>
<rect x="445.4" y="348.30" width="23.3" height="11.1" fill="#C8533A" stroke="#7a7a7a" stroke-width="0.9"/>
<text transform="translate(472.8,357.30) scale(0.925,1)" font-size="9.1" fill="#111">44 - 90</text>
<rect x="445.4" y="361.34" width="23.3" height="11.1" fill="#E07A2E" stroke="#7a7a7a" stroke-width="0.9"/>
<text transform="translate(472.8,370.34) scale(0.925,1)" font-size="9.1" fill="#111">91 - 120</text>
<rect x="445.4" y="374.38" width="23.3" height="11.1" fill="#F0A41E" stroke="#7a7a7a" stroke-width="0.9"/>
<text transform="translate(472.8,383.38) scale(0.925,1)" font-size="9.1" fill="#111">121 - 160</text>
<rect x="445.4" y="387.42" width="23.3" height="11.1" fill="#FFD81C" stroke="#7a7a7a" stroke-width="0.9"/>
<text transform="translate(472.8,396.42) scale(0.925,1)" font-size="9.1" fill="#111">161 - 200</text>
<rect x="445.4" y="400.46" width="23.3" height="11.1" fill="#C4F01C" stroke="#7a7a7a" stroke-width="0.9"/>
<text transform="translate(472.8,409.46) scale(0.925,1)" font-size="9.1" fill="#111">201 - 250</text>
<rect x="445.4" y="413.50" width="23.3" height="11.1" fill="#38DC10" stroke="#7a7a7a" stroke-width="0.9"/>
<text transform="translate(472.8,422.50) scale(0.925,1)" font-size="9.1" fill="#111">251 - 300</text>
<rect x="445.4" y="426.54" width="23.3" height="11.1" fill="#22C450" stroke="#7a7a7a" stroke-width="0.9"/>
<text transform="translate(472.8,435.54) scale(0.925,1)" font-size="9.1" fill="#111">301 - 400</text>
<rect x="445.4" y="439.58" width="23.3" height="11.1" fill="#25A088" stroke="#7a7a7a" stroke-width="0.9"/>
<text transform="translate(472.8,448.58) scale(0.925,1)" font-size="9.1" fill="#111">401 - 550</text>
<rect x="445.4" y="452.62" width="23.3" height="11.1" fill="#1E7896" stroke="#7a7a7a" stroke-width="0.9"/>
<text transform="translate(472.8,461.62) scale(0.925,1)" font-size="9.1" fill="#111">551 - 700</text>
<rect x="445.4" y="465.66" width="23.3" height="11.1" fill="#123282" stroke="#7a7a7a" stroke-width="0.9"/>
<text transform="translate(472.8,474.66) scale(0.925,1)" font-size="9.1" fill="#111">> 700</text>
<path d="M268.5,494.3 L391.1,494.3 M268.50,494.3 v-7.7 M283.83,494.3 v-5 M299.16,494.3 v-6 M314.49,494.3 v-5 M329.82,494.3 v-7.7 M345.15,494.3 v-5 M360.48,494.3 v-5 M375.81,494.3 v-5 M391.14,494.3 v-7.7" stroke="#111" stroke-width="1.15" fill="none"/>
<text x="268.5" y="481.5" font-size="10.6" text-anchor="middle" fill="#111">0</text>
<text x="299.2" y="481.5" font-size="10.6" text-anchor="middle" fill="#111">150</text>
<text x="329.8" y="481.5" font-size="10.6" text-anchor="middle" fill="#111">300</text>
<text x="382.5" y="481.5" font-size="10.6" fill="#111">600 Km</text>
<g transform="matrix(1.0255,0,0,1.03,-0.7,497.2)">
<g clip-path="url(#land)">
<rect x="0" y="0" width="445" height="166" fill="#C8533A"/>
<path fill="#E07A2E" fill-rule="evenodd" d="M374.3,43.3L373.0,42.3L370.0,41.7L367.3,40.3L363.3,40.7L359.7,43.3L357.3,44.3L356.0,45.7L353.7,50.0L353.7,52.3L356.3,55.3L359.0,56.7L364.3,56.7L368.7,55.3L373.7,52.7L375.3,50.3L375.7,47.3ZM0.0,0.0L0.0,165.7L444.7,165.7L444.7,0.0ZM159.3,99.3L160.3,98.0L162.3,97.0L167.0,96.7L168.7,97.3L174.0,102.3L178.0,109.3L182.7,112.7L190.7,115.7L192.0,117.0L191.7,118.7L188.3,121.0L184.7,121.0L180.7,122.3L175.7,121.7L172.7,120.0L169.3,119.0L167.3,117.3L164.0,115.7L162.0,113.7L159.0,109.0L157.7,105.0L157.7,103.3ZM203.3,99.7L204.0,98.0L205.7,96.7L211.3,96.3L214.0,98.3L214.3,101.3L212.7,103.3L209.0,105.3L207.0,105.3L204.3,103.3L203.3,101.0ZM252.7,93.3L253.7,92.0L257.7,90.7L267.0,91.0L269.3,93.7L269.7,96.3L267.7,100.0L266.0,101.0L257.7,101.0L255.0,100.0L253.3,98.3L252.7,96.3ZM130.7,80.7L131.7,79.0L133.0,79.0L133.7,79.7L132.7,81.3L131.3,81.3ZM235.3,73.0L239.3,72.0L244.7,72.0L250.3,73.7L252.7,75.3L253.3,76.7L253.0,79.0L251.3,80.7L248.3,80.7L247.7,81.7L248.3,84.3L248.3,88.3L247.3,89.7L245.0,90.7L242.0,90.7L239.3,89.0L233.3,78.7L233.3,75.7ZM172.0,53.7L174.3,52.0L176.7,52.0L178.7,53.0L179.7,55.0L178.0,57.3L175.0,57.7L172.0,55.3ZM156.7,38.7L158.7,36.3L160.7,35.7L166.7,36.0L168.7,36.7L170.0,38.0L170.3,41.0L168.3,43.7L164.3,44.0L158.3,42.3L156.7,40.0ZM430.7,70.7L428.0,73.7L426.7,74.3L421.7,74.3L419.7,75.7L418.3,80.0L419.3,92.3L418.0,96.0L416.3,97.7L415.0,98.0L413.3,97.7L411.7,96.0L411.3,80.3L407.0,78.7L404.7,76.7L401.3,75.3L399.3,73.7L397.3,70.3L396.7,68.0L394.0,65.3L392.3,62.7L391.0,55.7L389.3,53.7L387.0,52.3L380.0,52.0L375.7,52.7L374.7,53.3L373.7,55.3L374.3,61.0L372.3,63.3L365.3,66.3L352.7,69.3L349.0,72.3L347.7,75.3L345.0,77.0L339.3,77.0L337.3,76.3L334.3,74.0L331.0,73.7L326.3,71.3L316.7,68.7L311.7,66.0L306.0,65.7L302.7,64.7L299.0,64.3L296.7,63.0L293.7,60.0L293.3,59.0L293.7,58.0L298.0,54.0L303.0,52.7L313.0,52.3L315.3,51.7L321.3,52.7L336.0,51.0L350.3,44.7L358.7,40.3L362.7,39.3L365.3,38.0L375.0,31.0L379.0,26.0L383.0,25.0L388.7,26.7L394.0,32.7L397.0,35.0L400.0,38.3L403.3,44.0L405.0,49.3L407.0,53.0L407.3,56.7L408.3,58.3L412.0,60.7L416.3,62.0L421.3,62.0L427.0,64.3L429.3,66.3Z"/>
<path fill="#F0A41E" fill-rule="evenodd" d="M0.0,0.0L0.0,165.7L444.7,165.7L444.7,106.3L439.3,106.0L436.0,104.7L433.7,104.7L431.7,105.7L427.3,106.0L420.0,104.3L415.3,101.3L412.7,103.0L409.7,104.0L405.7,107.7L403.3,108.7L396.7,106.3L393.7,106.0L385.3,102.7L380.7,97.7L375.3,95.3L370.7,91.7L365.3,89.7L359.7,88.7L353.3,85.3L348.7,84.0L345.3,82.3L334.7,80.7L330.7,78.0L326.0,77.0L322.3,75.7L320.0,75.7L314.7,73.3L310.3,73.0L305.3,71.3L303.0,71.3L295.7,68.7L292.3,68.7L290.3,68.0L286.7,68.3L282.0,65.3L279.0,64.3L277.0,64.3L274.3,66.7L272.3,70.0L271.0,73.7L268.7,76.3L268.7,80.3L271.0,82.7L272.0,84.7L272.0,88.7L270.3,91.0L271.3,96.3L269.0,101.0L268.0,102.0L263.3,103.0L261.3,104.0L259.0,104.0L247.7,98.3L241.3,97.0L238.7,97.0L233.3,99.3L227.3,99.7L222.7,102.3L218.7,103.7L217.0,105.3L211.0,107.7L207.3,112.0L196.3,120.7L193.3,121.7L188.3,125.0L184.3,125.7L182.0,127.0L178.3,128.0L162.3,126.7L152.3,123.3L149.0,121.3L147.0,119.3L144.0,113.0L139.3,107.3L135.0,103.3L127.7,99.3L122.3,99.7L116.7,101.0L108.0,98.0L106.3,96.3L106.3,93.3L105.7,91.0L101.3,85.3L101.7,84.0L105.3,81.3L105.0,80.0L103.0,77.7L101.0,73.7L99.7,69.0L100.0,61.7L103.3,57.0L106.7,57.0L114.7,53.7L118.3,51.3L122.3,50.0L130.3,50.7L139.7,54.0L143.7,56.3L148.3,57.3L150.7,58.7L153.7,58.7L159.7,56.7L162.3,55.3L163.7,54.0L164.0,51.3L160.3,46.0L155.7,44.7L154.0,43.3L151.7,39.7L151.7,38.7L153.7,36.7L158.3,34.3L167.3,31.3L174.7,29.7L180.7,29.7L182.3,29.0L191.0,29.0L196.3,26.7L203.3,27.7L210.0,30.3L211.0,31.3L210.3,32.7L210.7,33.3L218.3,39.0L232.3,44.0L237.0,46.3L239.0,46.0L244.3,48.7L248.7,49.3L257.0,53.0L262.0,56.3L263.7,56.7L269.0,55.7L272.0,54.0L280.0,54.7L285.0,55.7L288.0,54.7L292.3,54.3L303.0,51.0L312.3,51.0L317.0,49.7L332.7,49.7L339.7,48.0L349.7,44.0L354.7,41.0L363.7,37.3L368.3,34.0L373.0,28.7L374.3,26.3L375.7,21.7L374.7,0.0ZM95.0,105.7L96.7,106.0L100.0,108.0L103.0,111.3L103.7,113.7L103.0,115.3L98.7,119.7L96.0,121.3L93.0,121.7L90.3,120.7L88.3,118.3L86.7,113.7L86.3,110.7L88.3,107.7L91.3,106.3Z"/>
<path fill="#FFD81C" fill-rule="evenodd" d="M0.0,0.0L0.0,165.7L444.7,165.7L444.7,114.3L437.3,114.3L431.7,112.7L427.3,113.0L426.7,114.3L429.0,119.3L428.7,122.3L423.0,128.7L420.7,129.7L416.3,129.7L415.3,128.3L416.7,127.0L418.3,126.3L420.3,123.7L420.3,122.7L419.0,121.0L415.7,119.7L410.7,119.7L407.3,119.0L405.7,117.7L404.3,115.0L404.0,112.3L395.3,109.3L392.3,109.0L384.7,106.0L380.3,101.3L376.7,99.3L373.3,98.3L370.7,95.3L364.3,91.3L358.7,89.3L354.0,86.7L343.7,83.0L335.7,82.0L332.0,81.0L325.3,81.3L322.0,80.0L318.3,80.0L314.3,77.3L306.7,75.0L287.0,74.0L283.0,74.7L277.7,77.3L273.3,82.3L275.0,95.3L278.7,101.3L277.7,103.0L275.3,104.3L270.3,105.7L265.7,105.7L262.0,107.3L257.3,107.3L251.0,104.7L247.3,104.3L243.3,103.0L229.7,103.3L221.7,108.0L219.0,108.3L209.7,112.0L207.7,114.0L207.3,115.0L201.3,120.3L196.0,123.3L191.7,127.0L187.0,128.7L181.0,129.7L176.3,132.0L173.7,132.0L172.3,131.3L164.3,131.7L160.3,129.7L156.7,128.7L148.7,124.7L141.0,118.0L139.0,114.7L136.7,112.3L133.0,109.7L126.7,106.7L119.0,107.0L116.3,108.7L114.3,109.0L111.0,105.7L108.7,105.0L105.7,106.0L104.7,107.3L104.7,110.3L106.7,113.7L109.7,114.7L109.7,116.0L107.3,121.0L106.0,126.7L101.7,131.3L100.0,131.3L98.7,130.3L94.7,129.3L92.3,127.3L89.3,126.0L86.0,122.3L83.0,121.3L82.3,120.3L82.0,117.3L83.3,113.0L81.0,105.0L79.0,102.0L75.7,99.0L75.7,97.7L77.0,96.0L77.7,93.3L86.7,85.0L87.3,81.0L90.7,75.3L91.0,70.3L91.7,68.3L91.7,64.0L93.3,57.0L95.3,52.3L98.7,50.3L102.7,49.0L108.0,48.7L111.3,47.3L117.3,47.0L120.7,46.0L125.0,43.3L133.3,40.3L136.7,37.7L146.3,32.3L151.7,30.3L156.3,30.3L160.0,27.7L166.0,27.0L171.3,24.7L177.0,24.7L179.7,23.7L185.7,24.7L191.0,23.7L198.7,20.3L212.0,20.0L214.7,19.0L216.7,19.0L218.3,20.0L217.7,21.0L214.0,23.3L212.0,24.0L204.3,24.3L207.3,27.0L216.3,30.3L221.0,30.3L222.0,31.0L221.3,32.7L222.0,33.7L226.3,33.7L228.0,35.0L229.0,37.0L233.3,38.7L237.3,39.3L244.7,42.7L249.3,43.3L256.7,48.0L262.0,50.3L264.0,50.0L267.0,51.0L269.3,51.0L272.0,49.7L282.3,49.7L286.3,47.7L294.3,47.3L298.0,48.7L312.7,48.7L316.7,47.0L324.0,47.0L329.3,48.3L336.3,47.7L340.7,46.7L351.0,42.3L363.3,35.7L367.7,31.7L369.0,28.3L372.3,24.0L372.3,17.7L371.0,13.3L371.0,8.0L370.3,4.3L371.0,0.0ZM302.3,120.3L304.0,118.3L305.3,117.7L310.3,118.0L312.0,119.0L317.3,119.7L318.3,119.0L321.3,119.3L323.0,120.7L325.0,124.0L325.7,126.3L326.7,127.3L330.0,127.3L332.3,129.0L333.3,130.7L335.0,136.7L334.3,138.7L331.0,140.3L326.0,140.3L324.0,141.3L317.7,142.3L315.0,142.0L312.0,140.3L306.3,139.3L303.0,137.0L300.3,134.3L299.7,132.7L300.7,127.0L302.0,123.7ZM293.0,89.0L294.0,88.0L297.3,86.3L301.0,85.3L306.3,85.3L311.3,87.3L312.3,89.0L312.0,90.0L310.3,91.0L303.7,91.0L299.7,94.3L294.7,93.0L293.7,92.0ZM21.3,23.0L23.0,21.3L25.7,20.3L28.0,20.3L30.7,19.3L34.3,20.0L40.0,27.7L46.3,33.0L47.0,35.3L45.7,37.0L42.0,39.7L37.0,40.7L34.3,40.7L32.0,40.0L25.3,36.0L21.3,32.0L20.3,29.3Z"/>
<path fill="#C4F01C" fill-rule="evenodd" d="M299.7,97.0L299.7,107.0L300.7,108.3L305.0,110.7L308.0,111.0L312.3,110.0L320.3,110.0L323.3,108.3L325.0,108.0L329.0,108.3L332.7,109.3L342.7,110.0L343.3,110.7L342.3,111.7L338.7,112.7L333.0,115.3L330.7,118.0L330.3,120.7L331.0,122.0L335.3,126.0L337.0,126.7L339.3,126.0L354.0,126.7L358.3,125.7L362.7,123.0L366.7,125.3L371.3,126.3L374.0,126.3L383.7,122.7L389.3,122.7L391.0,122.0L392.3,122.0L396.0,123.7L400.0,123.7L404.7,125.7L412.3,126.7L417.0,125.7L419.0,123.7L418.3,122.0L415.7,120.7L408.0,120.3L403.3,118.3L398.3,117.7L394.0,116.0L389.3,115.0L383.3,112.3L380.0,109.3L380.0,106.7L374.7,102.0L372.3,100.7L365.3,93.7L361.3,91.3L356.0,89.3L352.3,87.0L348.7,86.3L343.0,84.0L338.3,83.7L333.3,82.3L330.3,82.3L326.3,83.3L323.7,85.3L318.3,92.0L311.7,92.7L305.0,92.0L303.0,93.0ZM315.7,80.7L311.3,77.7L304.7,77.0L298.7,75.7L296.0,76.3L289.0,76.7L281.3,80.7L279.7,83.0L281.7,85.0L285.3,85.3L289.0,87.0L291.3,87.0L300.3,84.0L312.0,84.0L314.3,83.0L315.3,82.0ZM219.0,8.7L219.3,10.7L225.0,16.7L227.0,19.7L230.7,22.0L235.7,27.0L237.3,29.7L244.7,37.0L258.7,44.0L264.3,43.3L268.3,44.7L275.7,45.3L280.3,44.0L294.7,44.0L297.7,44.7L305.7,42.7L316.3,43.0L320.0,41.7L322.0,43.7L325.0,45.0L328.3,45.7L339.7,45.7L353.0,40.0L358.7,35.0L363.7,32.3L365.7,30.3L369.3,22.3L369.3,17.7L368.3,15.3L368.0,7.7L361.0,0.0L235.0,0.0L228.7,3.3L222.3,3.7L219.7,6.7ZM0.0,60.3L0.0,165.7L255.0,165.7L255.0,147.0L255.7,144.7L255.0,137.7L256.3,129.7L259.0,128.0L265.3,127.0L274.3,126.7L281.0,123.7L285.3,122.7L289.0,122.7L292.3,120.3L294.7,116.0L294.7,114.0L292.7,110.3L289.0,107.0L285.7,106.0L283.0,105.7L277.3,107.0L273.0,107.3L262.0,110.3L254.3,110.3L242.7,107.7L239.3,107.7L236.0,106.3L234.0,106.3L228.3,109.0L224.7,108.3L212.3,114.3L207.7,118.3L205.7,119.0L197.7,123.7L195.7,127.0L194.0,128.7L191.0,129.7L187.0,132.7L180.7,134.3L175.7,134.7L173.0,135.7L170.7,135.7L169.3,135.0L163.0,135.0L159.3,133.0L156.0,132.0L148.0,127.3L143.3,125.3L135.0,117.7L132.0,112.0L128.7,110.0L118.3,110.3L115.0,112.3L110.7,117.3L108.0,121.7L107.3,124.0L107.3,127.7L104.7,133.7L103.0,135.7L101.0,136.3L98.3,136.0L96.0,135.0L94.0,132.3L85.0,123.7L80.7,123.3L78.7,121.7L76.0,116.7L75.3,114.3L67.3,105.3L66.7,103.3L64.3,100.0L63.3,91.3L66.0,86.7L66.3,84.0L65.3,80.0L63.0,76.7L62.3,74.0L63.0,72.0L64.7,70.0L67.7,68.7L71.0,68.3L72.3,67.7L74.0,65.7L78.3,62.7L79.7,57.3L81.0,56.0L83.0,55.3L82.0,49.3L83.0,48.3L99.0,48.7L102.7,47.3L111.0,45.7L119.7,44.7L125.3,41.3L128.7,37.0L135.3,33.3L142.3,31.0L146.7,28.7L153.0,27.3L158.0,25.0L162.7,24.3L169.0,22.0L174.7,21.7L178.0,20.7L181.0,20.7L183.3,21.7L186.7,21.7L190.3,20.7L193.3,18.7L198.0,17.0L199.0,16.0L200.7,11.0L202.0,9.0L202.3,6.0L200.7,2.7L199.0,1.7L196.0,1.0L195.3,0.0L101.3,0.0L96.7,3.7L95.3,7.3L92.3,11.0L92.3,17.3L91.3,19.0L78.3,19.3L76.7,20.0L71.7,20.3L68.7,19.3L56.7,18.0L55.0,17.3L43.3,17.3L40.3,16.7L37.3,17.0L36.3,18.0L36.3,19.3L42.0,27.7L47.0,31.0L52.7,37.3L56.3,39.0L59.7,39.3L65.3,41.3L72.0,46.3L73.0,47.7L73.0,48.7L71.3,49.7L68.0,49.7L65.3,50.3L57.0,50.3L53.7,51.3L43.0,50.7L38.0,52.3L27.7,52.7L25.3,53.3L20.3,53.0L14.7,54.7L10.7,57.3L7.0,58.0L4.3,59.7Z"/>
<path fill="#38DC10" fill-rule="evenodd" d="M385.7,116.3L387.3,118.3L388.7,119.0L392.0,119.3L404.7,123.0L409.7,123.7L412.7,124.7L415.0,124.7L417.0,123.3L416.3,122.0L414.3,121.3L408.0,121.3L403.3,120.0L397.7,119.3L389.3,116.7ZM301.0,98.3L301.0,105.7L302.0,107.3L306.0,109.3L309.3,109.3L313.0,108.3L316.3,105.3L317.7,104.7L323.7,103.7L325.0,102.0L324.7,97.3L323.7,96.0L322.0,95.3L315.3,95.7L304.3,94.7L302.0,96.3ZM328.3,85.0L327.7,86.3L327.7,90.7L328.3,92.3L329.7,93.7L334.7,96.3L339.0,100.7L343.3,102.3L347.7,105.3L351.0,106.0L355.0,109.0L358.7,110.3L360.7,112.3L365.3,120.0L368.0,122.3L371.3,123.0L375.0,122.7L381.0,120.0L382.0,119.0L382.3,117.7L381.3,115.3L374.7,108.3L368.3,99.3L362.7,94.7L356.7,94.0L350.7,91.3L346.3,90.3L341.3,87.0L333.7,83.7L330.7,83.7ZM309.3,79.7L309.0,81.0L310.3,81.3L311.0,80.7L311.0,79.7ZM0.0,165.7L253.7,165.7L254.0,153.7L253.0,150.0L253.0,147.7L254.0,144.3L254.0,133.0L253.0,131.3L253.0,130.0L254.0,128.0L259.7,122.3L261.7,121.3L271.0,119.3L282.0,119.3L288.3,115.3L288.7,114.0L286.0,110.0L281.7,108.0L273.0,108.7L268.3,110.3L264.7,112.3L260.7,113.3L257.7,113.3L250.3,110.7L245.3,109.7L233.7,110.0L227.7,112.3L223.0,112.0L216.3,115.0L209.0,119.7L206.0,120.3L200.0,123.0L197.7,125.0L197.0,126.3L196.7,129.7L195.7,130.7L191.3,132.3L188.0,135.3L182.0,137.7L176.0,138.0L170.3,140.3L165.3,138.3L161.3,137.7L154.0,133.7L148.7,132.3L144.7,129.7L141.7,128.7L135.3,123.0L133.7,117.0L131.7,113.0L130.0,111.3L128.3,110.7L120.3,111.3L117.7,112.7L114.0,116.3L112.0,117.3L109.0,120.7L108.0,123.0L108.3,129.7L105.0,136.0L102.3,138.7L99.0,140.0L96.0,139.3L92.3,137.3L87.3,131.0L84.7,129.3L76.0,120.7L72.7,119.0L69.0,114.7L58.3,104.7L55.7,100.3L54.7,96.7L53.3,94.7L48.7,90.7L44.7,82.0L41.0,76.7L31.7,76.3L25.3,74.3L21.3,72.0L14.7,71.7L8.7,72.0L6.0,73.0L0.0,72.7ZM281.7,38.0L281.7,40.7L286.0,42.7L290.0,42.7L292.7,42.0L294.0,41.0L294.3,39.7L293.3,36.3L292.3,35.3L289.3,34.3L283.7,35.0L282.3,36.3ZM314.3,18.0L314.3,19.7L315.3,22.3L314.3,26.7L314.3,32.3L315.3,38.3L316.0,39.7L320.3,40.0L323.3,42.7L328.0,44.0L339.7,44.0L351.0,39.0L357.3,33.7L361.0,31.7L363.3,29.7L364.7,27.3L366.0,23.0L366.3,19.3L365.0,16.0L365.0,13.7L366.0,11.3L366.0,8.3L365.3,7.0L363.0,5.3L359.3,0.0L326.3,0.0L322.3,3.7L319.7,8.0L316.7,11.3ZM74.0,29.3L75.0,31.7L75.3,34.7L77.0,37.0L80.0,38.3L82.0,40.0L86.7,41.7L90.7,44.0L95.0,45.0L99.0,45.3L105.0,41.0L107.0,41.0L110.3,40.0L123.7,40.3L125.3,39.3L127.0,36.0L131.7,32.3L136.0,31.0L139.7,28.7L143.7,28.0L150.3,24.3L152.7,24.3L154.7,23.7L157.3,21.0L158.3,19.0L158.3,15.0L160.0,9.7L160.3,5.7L159.7,4.0L156.0,0.0L103.3,0.0L101.3,2.3L98.0,4.7L97.0,8.3L94.3,11.3L93.7,13.0L94.0,16.7L93.3,19.7L92.0,20.7L84.7,21.0L78.7,22.3L74.7,25.3L74.0,26.7Z"/>
<path fill="#22C450" fill-rule="evenodd" d="M230.0,143.7L228.7,145.0L227.7,147.3L228.0,151.7L230.0,153.3L233.7,153.7L237.0,152.7L238.3,149.7L238.0,146.0L236.7,144.7L234.0,143.3L231.7,143.0ZM234.3,118.0L235.0,120.0L238.0,122.7L243.3,122.7L245.3,123.3L249.3,123.3L253.7,121.3L256.0,118.7L255.7,116.7L252.3,113.0L246.0,111.3L243.7,111.3L238.0,113.3L235.3,115.7ZM268.3,113.0L268.3,114.0L269.7,116.0L273.3,117.3L280.0,117.0L281.7,116.0L283.3,113.7L283.0,111.7L281.7,110.3L279.7,109.7L273.7,109.7L269.3,111.7ZM305.0,100.7L305.0,102.3L306.0,103.3L308.7,104.3L313.0,103.7L314.3,103.0L315.3,101.3L315.0,99.3L313.0,97.7L308.3,98.0L305.7,99.7ZM343.3,97.0L343.3,98.7L344.0,100.0L348.7,103.3L353.3,104.0L356.0,105.0L359.3,105.0L362.7,104.3L364.7,102.7L364.7,100.7L362.0,98.0L352.0,94.3L347.3,94.0L344.3,95.3ZM0.0,83.0L0.0,165.7L205.7,165.7L205.7,161.3L206.3,159.0L206.0,156.3L207.3,151.7L207.3,146.0L210.7,140.3L211.3,135.0L212.7,130.3L216.0,126.7L216.0,124.3L213.3,121.0L210.0,120.7L206.7,121.3L199.0,124.7L198.0,126.7L199.0,131.7L194.3,135.3L191.0,136.3L184.7,139.3L176.7,140.7L169.0,143.0L166.0,143.0L162.3,141.0L156.7,139.0L153.7,137.0L148.0,135.7L140.3,132.3L138.0,129.3L134.3,126.0L133.7,119.3L131.3,113.3L129.0,111.3L121.7,111.7L118.0,113.3L115.0,116.7L111.7,118.3L109.3,121.0L108.3,123.7L108.3,126.7L109.7,131.0L103.7,140.7L101.0,142.7L93.7,142.7L90.0,141.0L82.0,134.7L78.0,130.0L73.7,127.0L69.3,125.3L64.7,122.7L58.7,118.3L55.7,115.3L54.0,111.7L51.3,108.0L44.0,100.3L36.0,95.0L33.0,91.7L31.0,91.0L26.0,86.0L21.7,83.7L17.0,83.7L14.3,83.0L9.0,83.0L6.0,83.7L3.7,83.0ZM318.3,34.3L321.0,39.0L324.7,42.0L329.0,43.0L340.7,42.3L350.0,38.0L357.0,32.3L360.7,30.3L363.0,27.0L364.0,21.0L361.0,18.0L357.7,16.7L348.0,17.0L346.0,16.3L334.7,16.3L331.0,18.0L322.7,20.3L320.7,21.7L318.0,26.3L318.7,29.0Z"/>
<path fill="#25A088" fill-rule="evenodd" d="M232.0,145.3L229.7,147.0L229.3,149.3L230.3,151.0L233.3,151.7L236.0,150.0L236.7,148.0L235.3,146.0ZM272.0,112.3L272.3,114.3L274.0,115.3L277.3,115.7L279.3,114.3L279.3,112.7L277.7,111.3L274.3,111.0ZM0.0,97.7L0.0,165.7L194.0,165.7L194.7,158.3L195.7,155.0L195.7,143.0L194.3,139.7L193.0,138.3L191.0,138.3L187.7,140.7L175.0,145.0L165.7,145.7L160.7,144.3L146.3,137.3L140.3,135.3L136.7,131.7L133.7,127.7L132.7,117.7L131.0,113.7L129.3,112.0L125.3,111.7L120.3,112.7L119.0,113.3L114.7,117.7L112.0,118.7L109.7,121.3L108.7,124.0L109.0,127.0L111.0,131.0L110.7,133.3L104.0,143.3L101.3,144.7L96.3,145.0L91.7,144.0L89.7,143.0L83.3,138.0L77.3,135.0L67.7,128.7L56.7,124.7L54.7,122.7L51.7,121.3L44.3,114.3L42.7,111.7L34.0,106.0L30.3,102.0L20.7,99.0L16.7,99.0L13.3,97.7L4.3,98.3ZM361.7,21.0L360.7,20.0L357.7,19.0L337.7,17.3L333.7,18.3L331.3,20.0L325.0,21.3L323.3,22.7L322.0,25.0L322.0,27.0L322.7,28.7L322.0,33.0L323.7,35.7L324.0,39.3L324.7,40.3L328.3,41.7L333.0,41.7L334.3,41.0L341.0,40.7L350.3,36.0L356.7,30.7L359.3,29.3L361.3,26.0L362.0,23.0Z"/>
<path fill="#1E7896" fill-rule="evenodd" d="M131.0,114.7L128.7,112.3L122.0,112.7L119.0,114.0L115.7,117.7L113.0,118.7L110.7,120.7L109.3,123.3L109.3,126.0L110.3,128.7L112.7,132.3L112.7,133.3L106.0,143.3L104.0,145.3L100.3,146.3L94.7,146.3L89.7,144.7L82.3,139.0L73.3,134.7L68.0,131.0L63.7,129.7L61.0,128.0L56.7,127.3L53.7,128.3L49.3,133.7L48.0,137.3L48.7,140.3L47.7,145.0L47.7,157.0L48.3,159.7L48.3,165.7L137.7,165.7L137.7,155.3L139.0,151.3L138.3,144.7L140.3,138.3L133.0,128.3L132.3,124.0L132.3,118.3ZM355.3,25.7L353.7,24.7L351.0,24.7L345.0,26.3L342.0,28.3L337.7,30.0L331.7,35.0L329.7,37.3L329.7,39.3L331.3,40.0L335.3,38.7L340.0,38.7L349.0,34.7L355.0,29.0L355.7,27.7Z"/>
<path fill="#123282" fill-rule="evenodd" d="M110.7,121.7L110.0,123.3L110.3,126.3L115.3,134.0L122.0,136.0L128.3,136.7L132.0,138.3L134.0,138.3L135.0,137.7L135.7,136.3L135.7,134.7L132.0,129.0L131.7,127.7L131.3,117.7L130.0,114.7L128.7,113.3L125.7,113.0L121.0,113.7L119.7,114.3L116.0,118.3L112.7,119.7ZM350.3,28.7L349.3,28.0L347.0,28.0L342.3,30.0L338.7,32.3L337.7,34.0L337.7,35.3L339.3,35.7L346.7,33.3L349.3,31.3L350.3,29.7Z"/>
</g>
<use href="#marmara" fill="#fff" stroke="#000" stroke-width="1.2" stroke-linejoin="round"/>
<use href="#bas"/>
<use href="#coast" fill="none" stroke="#000" stroke-width="1.35" stroke-linejoin="round"/>
<use href="#lab"/>
</g>
<rect x="2.5" y="500.5" width="510.70000000000005" height="162.1" fill="none" stroke="#333" stroke-width="1.1"/>
<text x="43.1" y="511.7" font-size="10.4" font-weight="bold" fill="#111">EBK Winter</text>
<path d="M425.0,511.7 L422.3,521.0 L425.0,523.7Z" fill="#111" stroke="#000" stroke-width="0.45"/>
<path d="M425.0,511.7 L427.7,521.0 L425.0,523.7Z" fill="#fff" stroke="#000" stroke-width="0.45"/>
<path d="M437.8,523.7 L427.7,521.0 L425.0,523.7Z" fill="#111" stroke="#000" stroke-width="0.45"/>
<path d="M437.8,523.7 L427.7,526.4 L425.0,523.7Z" fill="#fff" stroke="#000" stroke-width="0.45"/>
<path d="M425.0,535.7 L427.7,526.4 L425.0,523.7Z" fill="#111" stroke="#000" stroke-width="0.45"/>
<path d="M425.0,535.7 L422.3,526.4 L425.0,523.7Z" fill="#fff" stroke="#000" stroke-width="0.45"/>
<path d="M412.2,523.7 L422.3,526.4 L425.0,523.7Z" fill="#111" stroke="#000" stroke-width="0.45"/>
<path d="M412.2,523.7 L422.3,521.0 L425.0,523.7Z" fill="#fff" stroke="#000" stroke-width="0.45"/>
<text x="425.0" y="509.8" font-size="8.6" text-anchor="middle" fill="#000">N</text>
<text x="425.0" y="544.1" font-size="8.6" text-anchor="middle" fill="#000">S</text>
<text x="407.6" y="526.6" font-size="8.6" text-anchor="middle" fill="#000">W</text>
<text x="441.0" y="526.6" font-size="8.6" text-anchor="middle" fill="#000">E</text>
<text x="446.2" y="508.4" font-size="9.3" font-weight="bold" fill="#111">P (mm)</text>
<rect x="445.4" y="512.10" width="23.3" height="11.1" fill="#C8533A" stroke="#7a7a7a" stroke-width="0.9"/>
<text transform="translate(472.8,521.10) scale(0.925,1)" font-size="9.1" fill="#111">44 - 100</text>
<rect x="445.4" y="525.72" width="23.3" height="11.1" fill="#E07A2E" stroke="#7a7a7a" stroke-width="0.9"/>
<text transform="translate(472.8,534.72) scale(0.925,1)" font-size="9.1" fill="#111">101 - 150</text>
<rect x="445.4" y="539.34" width="23.3" height="11.1" fill="#F0A41E" stroke="#7a7a7a" stroke-width="0.9"/>
<text transform="translate(472.8,548.34) scale(0.925,1)" font-size="9.1" fill="#111">151 - 200</text>
<rect x="445.4" y="552.96" width="23.3" height="11.1" fill="#FFD81C" stroke="#7a7a7a" stroke-width="0.9"/>
<text transform="translate(472.8,561.96) scale(0.925,1)" font-size="9.1" fill="#111">201 - 250</text>
<rect x="445.4" y="566.58" width="23.3" height="11.1" fill="#C4F01C" stroke="#7a7a7a" stroke-width="0.9"/>
<text transform="translate(472.8,575.58) scale(0.925,1)" font-size="9.1" fill="#111">251 - 300</text>
<rect x="445.4" y="580.20" width="23.3" height="11.1" fill="#38DC10" stroke="#7a7a7a" stroke-width="0.9"/>
<text transform="translate(472.8,589.20) scale(0.925,1)" font-size="9.1" fill="#111">301 - 350</text>
<rect x="445.4" y="593.82" width="23.3" height="11.1" fill="#22C450" stroke="#7a7a7a" stroke-width="0.9"/>
<text transform="translate(472.8,602.82) scale(0.925,1)" font-size="9.1" fill="#111">351 - 400</text>
<rect x="445.4" y="607.44" width="23.3" height="11.1" fill="#25A088" stroke="#7a7a7a" stroke-width="0.9"/>
<text transform="translate(472.8,616.44) scale(0.925,1)" font-size="9.1" fill="#111">401 - 525</text>
<rect x="445.4" y="621.06" width="23.3" height="11.1" fill="#1E7896" stroke="#7a7a7a" stroke-width="0.9"/>
<text transform="translate(472.8,630.06) scale(0.925,1)" font-size="9.1" fill="#111">526 - 650</text>
<rect x="445.4" y="634.68" width="23.3" height="11.1" fill="#123282" stroke="#7a7a7a" stroke-width="0.9"/>
<text transform="translate(472.8,643.68) scale(0.925,1)" font-size="9.1" fill="#111">> 650</text>
<path d="M268.5,657.5 L391.1,657.5 M268.50,657.5 v-7.7 M283.83,657.5 v-5 M299.16,657.5 v-6 M314.49,657.5 v-5 M329.82,657.5 v-7.7 M345.15,657.5 v-5 M360.48,657.5 v-5 M375.81,657.5 v-5 M391.14,657.5 v-7.7" stroke="#111" stroke-width="1.15" fill="none"/>
<text x="268.5" y="644.7" font-size="10.6" text-anchor="middle" fill="#111">0</text>
<text x="299.2" y="644.7" font-size="10.6" text-anchor="middle" fill="#111">150</text>
<text x="329.8" y="644.7" font-size="10.6" text-anchor="middle" fill="#111">300</text>
<text x="382.5" y="644.7" font-size="10.6" fill="#111">600 Km</text>
</svg></body></html>
